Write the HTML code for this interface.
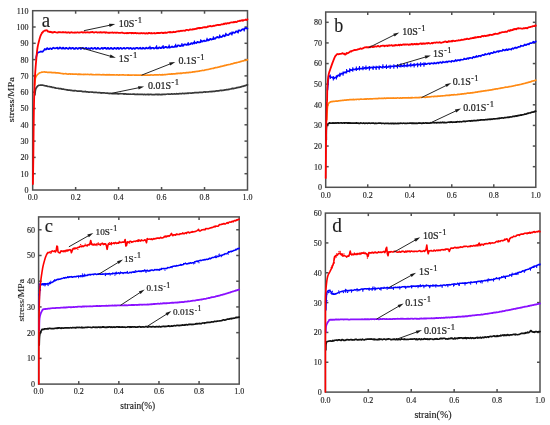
<!DOCTYPE html>
<html><head><meta charset="utf-8"><style>
html,body{margin:0;padding:0;background:#fff;}
svg{display:block;}
text{font-family:"Liberation Serif", "Times New Roman", serif;fill:#1e1e1e;stroke:#1e1e1e;stroke-width:0.15px;}
.r{stroke:#1e1e1e;stroke-width:0.22px;}
</style></head><body>
<svg width="550" height="425" viewBox="0 0 550 425" font-size="8">
<rect width="550" height="425" fill="#fff"/>
<rect x="32.67" y="10.7" width="214.83" height="179.30" fill="none" stroke="#505050" stroke-width="1.5"/>
<text x="28.47" y="192.90" text-anchor="end" font-size="8.0">0</text>
<line x1="32.67" y1="173.70" x2="35.67" y2="173.70" stroke="#505050" stroke-width="1.5"/>
<line x1="247.5" y1="173.70" x2="244.5" y2="173.70" stroke="#505050" stroke-width="1.5"/>
<text x="28.47" y="176.60" text-anchor="end" font-size="8.0">10</text>
<line x1="32.67" y1="157.40" x2="35.67" y2="157.40" stroke="#505050" stroke-width="1.5"/>
<line x1="247.5" y1="157.40" x2="244.5" y2="157.40" stroke="#505050" stroke-width="1.5"/>
<text x="28.47" y="160.30" text-anchor="end" font-size="8.0">20</text>
<line x1="32.67" y1="141.10" x2="35.67" y2="141.10" stroke="#505050" stroke-width="1.5"/>
<line x1="247.5" y1="141.10" x2="244.5" y2="141.10" stroke="#505050" stroke-width="1.5"/>
<text x="28.47" y="144.00" text-anchor="end" font-size="8.0">30</text>
<line x1="32.67" y1="124.80" x2="35.67" y2="124.80" stroke="#505050" stroke-width="1.5"/>
<line x1="247.5" y1="124.80" x2="244.5" y2="124.80" stroke="#505050" stroke-width="1.5"/>
<text x="28.47" y="127.70" text-anchor="end" font-size="8.0">40</text>
<line x1="32.67" y1="108.50" x2="35.67" y2="108.50" stroke="#505050" stroke-width="1.5"/>
<line x1="247.5" y1="108.50" x2="244.5" y2="108.50" stroke="#505050" stroke-width="1.5"/>
<text x="28.47" y="111.40" text-anchor="end" font-size="8.0">50</text>
<line x1="32.67" y1="92.20" x2="35.67" y2="92.20" stroke="#505050" stroke-width="1.5"/>
<line x1="247.5" y1="92.20" x2="244.5" y2="92.20" stroke="#505050" stroke-width="1.5"/>
<text x="28.47" y="95.10" text-anchor="end" font-size="8.0">60</text>
<line x1="32.67" y1="75.90" x2="35.67" y2="75.90" stroke="#505050" stroke-width="1.5"/>
<line x1="247.5" y1="75.90" x2="244.5" y2="75.90" stroke="#505050" stroke-width="1.5"/>
<text x="28.47" y="78.80" text-anchor="end" font-size="8.0">70</text>
<line x1="32.67" y1="59.60" x2="35.67" y2="59.60" stroke="#505050" stroke-width="1.5"/>
<line x1="247.5" y1="59.60" x2="244.5" y2="59.60" stroke="#505050" stroke-width="1.5"/>
<text x="28.47" y="62.50" text-anchor="end" font-size="8.0">80</text>
<line x1="32.67" y1="43.30" x2="35.67" y2="43.30" stroke="#505050" stroke-width="1.5"/>
<line x1="247.5" y1="43.30" x2="244.5" y2="43.30" stroke="#505050" stroke-width="1.5"/>
<text x="28.47" y="46.20" text-anchor="end" font-size="8.0">90</text>
<line x1="32.67" y1="27.00" x2="35.67" y2="27.00" stroke="#505050" stroke-width="1.5"/>
<line x1="247.5" y1="27.00" x2="244.5" y2="27.00" stroke="#505050" stroke-width="1.5"/>
<text x="28.47" y="29.90" text-anchor="end" font-size="8.0">100</text>
<text x="28.47" y="13.60" text-anchor="end" font-size="8.0">110</text>
<text x="32.67" y="200.40" text-anchor="middle" font-size="8.0">0.0</text>
<line x1="75.64" y1="190.0" x2="75.64" y2="187.0" stroke="#505050" stroke-width="1.5"/>
<line x1="75.64" y1="10.7" x2="75.64" y2="13.7" stroke="#505050" stroke-width="1.5"/>
<text x="75.64" y="200.40" text-anchor="middle" font-size="8.0">0.2</text>
<line x1="118.60" y1="190.0" x2="118.60" y2="187.0" stroke="#505050" stroke-width="1.5"/>
<line x1="118.60" y1="10.7" x2="118.60" y2="13.7" stroke="#505050" stroke-width="1.5"/>
<text x="118.60" y="200.40" text-anchor="middle" font-size="8.0">0.4</text>
<line x1="161.57" y1="190.0" x2="161.57" y2="187.0" stroke="#505050" stroke-width="1.5"/>
<line x1="161.57" y1="10.7" x2="161.57" y2="13.7" stroke="#505050" stroke-width="1.5"/>
<text x="161.57" y="200.40" text-anchor="middle" font-size="8.0">0.6</text>
<line x1="204.53" y1="190.0" x2="204.53" y2="187.0" stroke="#505050" stroke-width="1.5"/>
<line x1="204.53" y1="10.7" x2="204.53" y2="13.7" stroke="#505050" stroke-width="1.5"/>
<text x="204.53" y="200.40" text-anchor="middle" font-size="8.0">0.8</text>
<text x="247.50" y="200.40" text-anchor="middle" font-size="8.0">1.0</text>
<polyline points="34.90,94.89 34.95,94.39 35.00,93.89 35.06,93.05 35.14,92.21 35.23,91.51 35.33,90.91 35.46,90.13 35.60,89.51 35.96,88.34 36.39,87.70 36.88,86.97 37.40,86.37 38.11,85.71 38.90,85.28 39.80,85.27 40.35,85.14 40.90,85.11 41.51,85.15 42.28,85.01 43.30,85.22 43.84,85.45 44.39,85.61 44.97,85.79 45.59,85.94 46.24,85.78 46.95,86.16 47.71,86.37 48.54,86.49 49.44,86.56 50.43,86.88 51.50,86.94 52.06,87.38 52.65,87.46 53.28,87.46 53.93,87.48 54.62,87.85 55.33,87.85 56.06,88.11 56.80,88.23 57.56,88.24 58.34,88.34 59.12,88.56 59.91,88.63 60.70,88.66 61.48,88.86 62.27,89.20 63.04,89.02 63.81,89.16 64.56,89.51 65.29,89.49 66.01,89.71 66.70,89.79 67.36,89.84 68.00,90.20 68.79,89.99 69.51,90.18 70.16,90.18 70.75,90.43 71.31,90.36 71.84,90.45 72.36,90.66 72.89,90.55 73.43,90.69 74.00,90.88 74.62,90.61 75.29,90.65 76.03,90.78 76.86,91.06 77.79,91.07 78.83,91.00 80.00,91.13 80.51,91.11 81.03,91.27 81.56,91.15 82.11,91.45 82.68,91.58 83.25,91.65 83.84,91.62 84.44,91.76 85.06,91.43 85.68,91.59 86.32,91.92 86.97,91.90 87.63,91.81 88.30,92.08 88.98,92.01 89.67,92.14 90.36,91.99 91.07,92.01 91.79,92.17 92.52,92.10 93.25,92.26 93.99,92.55 94.74,92.36 95.50,92.29 96.26,92.36 97.03,92.47 97.81,92.77 98.59,92.66 99.38,92.68 100.17,92.66 100.97,93.07 101.78,92.90 102.59,92.87 103.40,92.86 104.21,92.91 105.03,93.00 105.85,93.25 106.68,93.09 107.51,93.09 108.34,93.31 109.17,93.26 110.00,93.60 110.62,93.28 111.25,93.47 111.90,93.60 112.55,93.48 113.21,93.74 113.89,93.56 114.57,93.49 115.26,93.59 115.97,93.47 116.67,93.65 117.39,93.60 118.11,93.89 118.84,93.89 119.58,93.78 120.32,93.62 121.07,93.73 121.82,93.75 122.57,93.76 123.33,93.80 124.10,94.08 124.86,93.81 125.63,93.79 126.39,94.17 127.16,94.04 127.93,94.24 128.70,94.02 129.47,94.24 130.24,94.16 131.01,94.24 131.77,94.24 132.54,94.16 133.30,94.02 134.06,94.08 134.81,94.37 135.56,94.39 136.30,94.42 137.04,94.20 137.78,94.35 138.51,94.42 139.23,94.37 139.94,94.46 140.65,94.36 141.35,94.42 142.04,94.45 142.72,94.29 143.39,94.57 144.05,94.59 144.70,94.25 145.34,94.62 145.97,94.63 146.58,94.52 147.19,94.28 147.78,94.63 148.35,94.33 148.92,94.67 149.47,94.56 150.00,94.32 151.05,94.38 152.04,94.57 153.00,94.55 153.91,94.63 154.78,94.70 155.61,94.41 156.41,94.32 157.17,94.68 157.91,94.31 158.62,94.64 159.31,94.33 159.97,94.59 160.62,94.56 161.25,94.58 161.87,94.43 162.48,94.54 163.08,94.25 163.68,94.42 164.27,94.26 164.87,94.46 165.47,94.39 166.08,94.24 166.69,94.24 167.32,94.01 167.96,93.99 168.62,94.19 169.30,94.12 170.00,94.25 170.71,94.12 171.43,93.90 172.14,93.97 172.86,94.10 173.57,93.97 174.29,93.74 175.00,94.04 175.71,94.00 176.43,93.67 177.14,93.82 177.86,93.73 178.57,93.85 179.29,93.63 180.00,93.56 180.71,93.63 181.43,93.78 182.14,93.40 182.86,93.36 183.57,93.53 184.29,93.59 185.00,93.40 185.71,93.33 186.43,93.46 187.14,93.38 187.86,93.06 188.57,93.34 189.29,93.02 190.00,93.02 190.72,93.19 191.44,92.98 192.17,93.08 192.90,92.78 193.64,93.01 194.38,92.68 195.12,92.62 195.86,92.71 196.60,92.59 197.35,92.62 198.09,92.71 198.83,92.58 199.57,92.24 200.31,92.31 201.05,92.35 201.78,92.27 202.50,92.31 203.23,92.16 203.94,91.94 204.65,91.95 205.35,92.13 206.05,91.88 206.73,91.99 207.41,92.02 208.07,91.82 208.73,91.78 209.37,91.70 210.00,91.53 210.82,91.69 211.62,91.44 212.41,91.55 213.17,91.24 213.92,91.40 214.65,91.31 215.37,91.17 216.08,91.04 216.78,90.85 217.47,91.04 218.15,90.80 218.83,90.85 219.51,90.57 220.19,90.47 220.86,90.42 221.54,90.60 222.22,90.26 222.90,90.46 223.59,90.16 224.29,90.14 225.00,89.94 225.72,89.93 226.46,89.60 227.21,89.60 227.97,89.68 228.73,89.24 229.50,89.28 230.28,89.00 231.05,88.84 231.82,88.58 232.59,88.42 233.35,88.64 234.10,88.44 234.83,88.27 235.56,88.12 236.26,88.02 236.95,87.55 237.61,87.58 238.25,87.40 238.86,87.29 239.45,87.30 240.00,87.10 240.99,86.95 241.92,86.37 242.79,86.34 243.60,86.12 244.34,85.92 245.02,85.65 245.64,85.54 246.20,85.14 246.69,85.23 247.13,84.88 247.50,84.84" fill="none" stroke="#383838" stroke-width="1.7" stroke-linejoin="round" stroke-linecap="round"/>
<polyline points="34.60,84.92 34.65,84.56 34.71,83.89 34.78,83.23 34.86,82.42 34.95,81.39 35.05,80.49 35.17,79.87 35.29,78.88 35.44,78.14 35.60,77.75 35.91,76.76 36.28,76.18 36.68,75.49 37.11,75.03 37.55,74.43 38.00,74.14 38.65,73.63 39.31,73.06 40.04,72.76 40.90,72.45 41.50,72.13 42.07,72.23 42.69,72.12 43.44,72.01 44.38,71.93 45.60,72.21 46.14,72.11 46.74,72.21 47.39,72.29 48.08,72.28 48.80,72.39 49.56,72.28 50.34,72.45 51.13,72.40 51.94,72.61 52.75,72.65 53.56,72.48 54.37,72.55 55.16,72.64 55.93,72.92 56.68,72.82 57.40,72.94 58.10,72.90 58.71,73.03 59.25,73.06 59.75,73.11 60.23,73.25 60.70,73.32 61.18,73.49 61.70,73.49 62.28,73.63 62.93,73.68 63.67,73.79 64.53,73.76 65.52,73.67 66.67,73.95 68.00,74.04 68.48,74.04 68.97,73.96 69.47,74.02 69.99,73.89 70.52,74.10 71.06,74.04 71.61,73.98 72.17,73.93 72.74,74.19 73.33,74.25 73.92,74.00 74.53,74.23 75.15,74.13 75.78,74.07 76.41,74.13 77.06,74.30 77.72,74.35 78.40,74.12 79.08,74.31 79.77,74.15 80.47,74.38 81.18,74.28 81.90,74.46 82.63,74.51 83.37,74.38 84.12,74.55 84.88,74.36 85.64,74.31 86.42,74.48 87.21,74.33 88.00,74.40 88.81,74.48 89.62,74.55 90.44,74.43 91.27,74.42 92.11,74.68 92.95,74.53 93.81,74.74 94.67,74.73 95.54,74.59 96.41,74.63 97.30,74.66 98.19,74.72 99.09,74.72 100.00,74.72 100.58,74.74 101.18,74.85 101.79,74.73 102.40,74.71 103.03,74.81 103.67,74.68 104.32,74.70 104.98,74.92 105.64,74.79 106.32,74.81 107.00,74.66 107.70,74.79 108.40,74.85 109.11,74.69 109.82,74.88 110.54,74.89 111.27,74.73 112.00,74.91 112.74,74.87 113.49,74.95 114.24,74.86 114.99,74.98 115.75,74.99 116.51,74.79 117.28,74.81 118.05,75.01 118.82,75.10 119.59,74.90 120.37,74.97 121.15,75.02 121.93,74.95 122.71,74.97 123.49,74.96 124.27,74.99 125.05,75.06 125.83,74.98 126.61,75.01 127.38,75.14 128.16,74.92 128.93,75.09 129.71,75.15 130.48,75.03 131.24,75.01 132.00,75.19 132.76,75.02 133.52,75.01 134.27,75.09 135.02,75.18 135.76,75.00 136.49,75.07 137.22,75.08 137.94,75.23 138.66,75.12 139.37,75.24 140.07,75.04 140.76,75.09 141.45,75.19 142.13,75.26 142.79,75.13 143.45,75.06 144.10,75.03 144.74,75.15 145.37,75.04 145.99,75.23 146.60,75.23 147.20,75.03 147.78,75.06 148.36,75.21 148.92,75.16 149.47,75.20 150.00,75.05 151.05,74.97 152.06,75.01 153.04,75.14 153.98,74.96 154.88,74.96 155.76,74.96 156.60,74.93 157.41,74.90 158.20,75.03 158.97,74.77 159.70,74.69 160.42,74.94 161.12,74.88 161.80,74.88 162.46,74.67 163.11,74.79 163.75,74.74 164.37,74.49 164.99,74.60 165.60,74.59 166.20,74.49 166.80,74.40 167.39,74.28 167.99,74.25 168.59,74.17 169.19,74.07 169.79,74.17 170.40,74.03 171.02,74.13 171.65,73.85 172.29,74.05 172.94,73.93 173.61,73.94 174.30,73.88 175.00,73.82 175.71,73.66 176.43,73.44 177.14,73.60 177.86,73.37 178.57,73.35 179.29,73.40 180.00,73.30 180.71,73.20 181.43,73.30 182.14,73.14 182.86,72.99 183.57,72.90 184.29,73.02 185.00,72.84 185.71,72.87 186.43,72.67 187.14,72.55 187.86,72.58 188.57,72.59 189.29,72.32 190.00,72.43 190.71,72.39 191.43,72.28 192.14,72.20 192.86,71.87 193.57,71.96 194.29,71.94 195.00,71.60 195.71,71.57 196.43,71.47 197.14,71.45 197.86,71.31 198.57,71.22 199.29,71.20 200.00,70.85 200.70,70.75 201.39,70.65 202.09,70.53 202.79,70.38 203.49,70.52 204.20,70.35 204.90,69.99 205.60,69.97 206.31,69.77 207.01,69.63 207.72,69.49 208.43,69.43 209.13,69.25 209.84,69.03 210.54,68.82 211.25,68.71 211.95,68.49 212.66,68.45 213.36,68.34 214.06,68.08 214.76,67.82 215.46,67.69 216.16,67.58 216.85,67.48 217.55,67.37 218.24,67.08 218.93,67.05 219.61,66.83 220.30,66.60 220.98,66.42 221.66,66.30 222.33,66.20 223.00,65.95 223.67,65.87 224.34,65.64 225.00,65.42 225.73,65.34 226.47,65.21 227.22,64.84 227.99,64.76 228.76,64.57 229.55,64.51 230.34,64.33 231.13,63.97 231.93,63.93 232.72,63.69 233.52,63.33 234.31,63.19 235.10,62.89 235.89,62.89 236.66,62.65 237.43,62.52 238.19,62.30 238.94,62.07 239.67,61.90 240.38,61.66 241.08,61.34 241.76,61.31 242.42,60.97 243.05,60.84 243.67,60.87 244.25,60.50 244.81,60.37 245.34,60.23 245.84,60.34 246.31,60.01 246.74,59.85 247.14,59.99 247.50,59.69" fill="none" stroke="#ff8a14" stroke-width="1.7" stroke-linejoin="round" stroke-linecap="round"/>
<polyline points="36.00,58.00 36.12,57.53 36.27,56.87 36.45,56.09 36.66,55.26 36.89,54.45 37.14,53.74 37.40,53.20 38.09,52.52 38.88,52.24 39.80,52.00 40.45,51.57 41.18,51.44 41.93,51.87 42.66,51.72 43.30,50.88 43.88,50.38 44.30,49.76 44.80,49.02 45.60,49.59 46.17,49.44 46.82,48.42 47.55,48.17 48.33,49.12 49.13,49.05 49.94,48.24 50.74,48.30 51.50,49.13 51.99,48.90 52.11,48.80 52.10,48.66 52.16,48.51 52.50,48.45 53.34,47.68 54.91,48.49 57.40,47.60 57.81,48.71 58.24,48.56 58.69,48.57 59.16,48.45 59.64,47.46 60.14,47.58 60.66,47.51 61.19,48.56 61.73,48.76 62.29,48.64 62.86,47.54 63.45,47.83 64.05,48.70 64.67,48.68 65.30,48.75 65.94,47.80 66.59,47.82 67.25,48.55 67.92,48.81 68.61,48.81 69.30,47.59 70.01,47.84 70.72,48.73 71.44,48.63 72.17,47.77 72.91,47.76 73.66,48.84 74.41,48.68 75.18,48.82 75.94,47.74 76.72,47.95 77.50,48.87 78.28,48.70 79.07,47.85 79.87,48.00 80.67,48.83 81.47,48.74 82.27,47.74 83.08,47.79 83.89,48.85 84.71,48.64 85.52,48.05 86.34,47.80 87.15,48.96 87.97,48.72 88.79,48.09 89.60,48.89 90.42,48.82 91.23,47.93 92.05,47.99 92.86,48.87 93.67,48.76 94.47,47.82 95.28,47.95 96.07,49.02 96.87,48.90 97.66,47.78 98.45,48.08 99.23,48.94 100.00,49.01 100.66,48.73 101.32,48.05 101.99,47.77 102.67,48.91 103.35,48.76 104.05,47.84 104.74,48.10 105.45,47.79 106.16,48.86 106.87,48.99 107.59,47.85 108.32,47.84 109.05,49.00 109.78,48.82 110.52,48.04 111.26,47.76 112.00,48.80 112.75,48.72 113.50,48.92 114.26,47.78 115.02,48.13 115.78,48.66 116.54,48.94 117.30,47.75 118.06,47.85 118.83,48.97 119.59,48.71 120.36,47.81 121.13,48.02 121.89,48.79 122.66,48.65 123.43,48.13 124.19,47.79 124.96,48.64 125.72,48.76 126.48,47.97 127.24,48.02 128.00,47.76 128.75,48.75 129.50,48.62 130.25,47.89 131.00,48.01 131.74,48.89 132.48,48.95 133.21,47.99 133.94,48.03 134.67,48.86 135.39,48.76 136.11,47.76 136.82,47.92 137.52,47.78 138.22,48.59 138.91,48.72 139.60,47.98 140.28,47.68 140.95,48.75 141.61,48.66 142.27,48.70 142.92,47.65 143.56,47.96 144.19,48.57 144.82,48.70 145.43,48.62 146.04,47.55 146.64,47.75 147.22,48.47 147.80,48.43 148.37,48.40 148.92,47.54 149.47,47.50 150.00,47.70 151.05,48.52 152.06,47.79 153.04,47.74 153.98,48.63 154.88,48.30 155.76,47.45 156.60,47.35 157.41,48.35 158.20,48.33 158.97,47.47 159.70,47.40 160.42,48.09 161.12,48.12 161.80,47.22 162.46,46.97 163.11,46.95 163.75,47.95 164.37,47.79 164.99,47.09 165.60,46.85 166.20,46.75 166.80,47.63 167.39,47.59 167.99,47.53 168.59,46.70 169.19,46.61 169.79,47.39 170.40,47.45 171.02,47.21 171.65,46.52 172.29,46.47 172.94,47.20 173.61,47.00 174.30,46.94 175.00,45.98 175.69,45.68 176.39,46.64 177.08,46.58 177.78,45.45 178.47,45.31 179.17,45.49 179.86,46.11 180.56,46.06 181.25,45.21 181.94,44.98 182.64,45.63 183.33,45.79 184.03,44.53 184.72,44.26 185.42,44.40 186.11,44.94 186.81,44.90 187.50,44.08 188.19,43.88 188.89,44.38 189.58,44.42 190.28,44.27 190.97,43.26 191.67,43.01 192.36,43.92 193.06,43.57 193.75,42.61 194.44,42.50 195.14,42.58 195.83,42.99 196.53,43.11 197.22,41.83 197.92,41.83 198.61,42.51 199.31,42.39 200.00,42.35 200.70,41.15 201.39,40.89 202.09,41.63 202.79,41.46 203.49,40.70 204.20,40.46 204.90,41.32 205.60,41.05 206.31,40.61 207.01,39.79 207.72,39.67 208.43,40.38 209.13,40.11 209.84,38.98 210.54,38.84 211.25,39.70 211.95,39.31 212.66,39.24 213.36,38.13 214.06,38.14 214.76,38.80 215.46,38.67 216.16,37.54 216.85,37.14 217.55,36.93 218.24,37.75 218.93,37.47 219.61,36.45 220.30,36.36 220.98,37.16 221.66,36.84 222.33,36.74 223.00,35.36 223.67,35.28 224.34,36.24 225.00,35.71 225.73,34.70 226.47,34.34 227.22,35.02 227.99,35.11 228.76,34.91 229.55,33.62 230.34,33.17 231.13,33.88 231.93,33.60 232.72,32.61 233.52,32.36 234.31,32.90 235.10,32.67 235.89,31.34 236.66,31.25 237.43,32.06 238.19,31.72 238.94,30.31 239.67,30.23 240.38,30.96 241.08,30.54 241.76,29.66 242.42,29.26 243.05,29.14 243.67,29.71 244.25,29.75 244.81,28.57 245.34,28.31 245.84,27.96 246.31,27.92 246.74,28.51 247.14,28.61 247.50,28.60" fill="none" stroke="#0000ff" stroke-width="1.7" stroke-linejoin="round" stroke-linecap="round"/>
<path d="M150.00 45.70V49.50M156.60 45.35V49.15M163.11 44.95V48.75M169.19 44.61V48.41M175.69 43.68V47.48M181.94 42.98V46.78M188.19 41.88V45.68M194.44 40.50V44.30M200.70 39.15V42.95M207.01 37.79V41.59M213.36 36.13V39.93M219.61 34.45V38.25M225.73 32.70V36.50M231.93 31.60V35.40M238.19 29.72V33.52M244.25 27.75V31.55" stroke="#0000ff" stroke-width="1.1" fill="none"/>
<polyline points="32.90,184.00 32.91,183.64 32.91,183.26 32.92,182.85 32.93,182.43 32.94,181.99 32.94,181.53 32.95,181.05 32.96,180.55 32.97,180.03 32.98,179.49 32.99,178.93 33.00,178.35 33.01,177.75 33.03,177.12 33.04,176.48 33.05,175.81 33.06,175.12 33.08,174.42 33.09,173.68 33.10,172.93 33.11,172.16 33.13,171.36 33.14,170.54 33.16,169.70 33.17,168.83 33.18,167.94 33.20,167.03 33.21,166.10 33.23,165.14 33.24,164.16 33.26,163.16 33.27,162.13 33.29,161.08 33.30,160.00 33.31,159.47 33.31,158.93 33.32,158.37 33.33,157.80 33.34,157.21 33.34,156.61 33.35,156.00 33.36,155.38 33.37,154.74 33.37,154.10 33.38,153.44 33.39,152.77 33.40,152.09 33.40,151.40 33.41,150.71 33.42,150.00 33.43,149.28 33.44,148.56 33.44,147.83 33.45,147.09 33.46,146.35 33.47,145.60 33.48,144.84 33.48,144.08 33.49,143.31 33.50,142.54 33.51,141.76 33.52,140.98 33.53,140.20 33.53,139.42 33.54,138.63 33.55,137.84 33.56,137.05 33.57,136.25 33.58,135.46 33.59,134.67 33.59,133.87 33.60,133.08 33.61,132.29 33.62,131.49 33.63,130.71 33.64,129.92 33.65,129.13 33.66,128.35 33.66,127.58 33.67,126.80 33.68,126.03 33.69,125.27 33.70,124.51 33.71,123.76 33.72,123.01 33.73,122.27 33.74,121.53 33.75,120.81 33.75,120.09 33.76,119.38 33.77,118.68 33.78,117.98 33.79,117.30 33.80,116.63 33.81,115.96 33.82,115.31 33.83,114.67 33.84,114.04 33.85,113.42 33.85,112.82 33.86,112.23 33.87,111.65 33.88,111.09 33.89,110.54 33.90,110.00 33.92,108.94 33.94,107.91 33.96,106.91 33.98,105.94 34.00,104.99 34.02,104.07 34.04,103.17 34.06,102.30 34.08,101.44 34.10,100.62 34.12,99.81 34.14,99.02 34.16,98.26 34.18,97.51 34.20,96.78 34.22,96.07 34.25,95.38 34.27,94.70 34.29,94.04 34.31,93.39 34.33,92.76 34.35,92.15 34.37,91.54 34.39,90.95 34.41,90.36 34.43,89.79 34.45,89.23 34.47,88.68 34.49,88.13 34.51,87.60 34.53,87.07 34.55,86.54 34.56,86.02 34.58,85.51 34.60,85.00 34.64,83.88 34.67,82.89 34.70,82.01 34.73,81.23 34.76,80.53 34.79,79.89 34.81,79.30 34.84,78.74 34.87,78.20 34.90,77.66 34.93,77.10 34.96,76.51 35.00,75.88 35.05,75.18 35.10,74.40 35.14,73.77 35.19,73.12 35.23,72.45 35.28,71.77 35.33,71.07 35.38,70.35 35.44,69.63 35.49,68.90 35.55,68.17 35.61,67.42 35.66,66.68 35.72,65.94 35.78,65.20 35.84,64.47 35.90,63.75 35.96,63.03 36.02,62.32 36.08,61.63 36.14,60.96 36.20,60.30 36.27,59.49 36.34,58.69 36.41,57.89 36.48,57.10 36.55,56.32 36.62,55.55 36.69,54.78 36.76,54.03 36.83,53.29 36.90,52.56 36.98,51.84 37.06,51.14 37.14,50.46 37.22,49.79 37.31,49.13 37.40,48.50 37.54,47.61 37.69,46.75 37.85,45.93 38.01,45.13 38.18,44.37 38.35,43.63 38.53,42.92 38.70,42.23 38.87,41.57 39.04,40.92 39.20,40.30 39.44,39.37 39.67,38.52 39.90,37.73 40.13,36.99 40.37,36.30 40.62,35.64 40.90,35.00 41.25,34.29 41.63,33.61 42.02,32.74 42.44,32.67 42.86,32.11 43.30,31.33 43.99,30.97 44.71,30.55 45.46,30.46 46.20,30.50 46.82,30.22 47.37,30.61 48.08,31.66 49.20,31.75 49.70,32.07 50.18,31.62 50.67,32.01 51.19,32.26 51.76,31.98 52.41,32.53 53.14,32.54 53.98,31.98 54.96,32.01 56.09,32.40 57.40,32.71 57.90,32.33 58.42,32.22 58.97,32.37 59.55,32.10 60.16,32.24 60.78,32.40 61.43,32.44 62.10,32.26 62.78,32.26 63.49,32.25 64.20,32.42 64.93,32.30 65.68,32.11 66.43,32.68 67.19,32.49 67.96,32.54 68.74,32.22 69.52,32.78 70.30,32.69 71.08,32.17 71.87,32.31 72.65,32.58 73.42,32.57 74.20,32.73 74.96,32.36 75.72,32.65 76.47,32.53 77.20,32.27 77.92,32.47 78.63,32.67 79.33,32.64 80.00,32.40 80.75,32.46 81.50,32.07 82.23,32.21 82.95,32.59 83.66,32.32 84.37,32.14 85.07,32.40 85.76,32.50 86.45,32.47 87.13,32.25 87.81,32.29 88.49,32.33 89.17,32.51 89.85,32.32 90.53,32.22 91.22,32.28 91.90,31.96 92.59,31.96 93.29,32.42 94.00,32.61 94.71,32.34 95.43,32.20 96.16,32.04 96.90,32.27 97.66,32.61 98.42,32.47 99.20,32.32 100.00,32.55 100.65,32.12 101.30,32.33 101.96,32.65 102.63,32.40 103.31,32.33 103.99,32.22 104.68,32.43 105.37,32.73 106.07,32.09 106.78,32.65 107.49,32.70 108.20,32.77 108.92,32.69 109.64,32.76 110.36,32.58 111.09,32.63 111.82,32.56 112.55,32.33 113.29,32.92 114.02,32.74 114.76,32.50 115.50,32.74 116.24,32.75 116.97,32.68 117.71,32.70 118.45,32.86 119.18,32.94 119.92,32.95 120.65,32.86 121.38,32.58 122.11,32.74 122.84,32.73 123.56,33.03 124.28,33.24 125.00,33.21 125.71,33.22 126.43,33.25 127.14,32.87 127.86,33.30 128.57,33.20 129.29,32.81 130.00,32.78 130.71,32.79 131.43,33.33 132.14,32.99 132.86,32.91 133.57,33.29 134.29,33.11 135.00,32.93 135.71,33.01 136.43,33.29 137.14,33.05 137.86,33.14 138.57,33.45 139.29,33.29 140.00,33.20 140.71,33.32 141.43,33.01 142.14,33.27 142.86,33.30 143.57,33.14 144.29,33.09 145.00,33.64 145.71,33.37 146.43,33.15 147.14,33.42 147.86,33.56 148.57,32.99 149.29,32.98 150.00,33.05 150.71,33.44 151.43,33.03 152.14,33.39 152.86,33.35 153.57,33.23 154.29,32.98 155.00,33.48 155.71,33.33 156.43,33.11 157.14,32.88 157.86,33.14 158.57,32.93 159.29,33.03 160.00,32.81 160.71,33.00 161.43,32.56 162.14,32.69 162.86,33.11 163.57,33.01 164.29,32.56 165.00,32.90 165.71,32.47 166.43,32.86 167.14,32.67 167.86,32.39 168.57,32.22 169.29,31.99 170.00,32.54 170.71,31.89 171.43,32.37 172.14,32.41 172.86,32.07 173.57,31.72 174.29,32.13 175.00,32.13 175.69,31.87 176.39,31.65 177.08,31.48 177.78,31.37 178.47,31.19 179.17,31.43 179.86,31.17 180.56,30.90 181.25,30.74 181.94,31.04 182.64,30.68 183.33,30.72 184.03,30.49 184.72,30.77 185.42,30.68 186.11,29.95 186.81,29.97 187.50,29.95 188.19,30.30 188.89,30.04 189.58,29.62 190.28,29.41 190.97,29.62 191.67,29.62 192.36,29.57 193.06,29.04 193.75,29.30 194.44,29.05 195.14,28.79 195.83,29.02 196.53,28.38 197.22,28.61 197.92,28.05 198.61,27.99 199.31,28.40 200.00,27.80 200.70,28.07 201.39,27.85 202.09,27.90 202.79,27.46 203.49,27.33 204.20,27.18 204.90,27.47 205.60,27.17 206.31,27.30 207.01,27.14 207.72,26.49 208.43,26.67 209.13,26.24 209.84,26.08 210.54,25.98 211.25,26.42 211.95,26.25 212.66,26.16 213.36,25.70 214.06,25.78 214.76,25.77 215.46,25.37 216.16,25.39 216.85,25.03 217.55,24.81 218.24,24.82 218.93,25.14 219.61,24.79 220.30,24.93 220.98,24.48 221.66,24.24 222.33,24.47 223.00,24.38 223.67,23.70 224.34,24.04 225.00,23.51 225.75,23.40 226.52,23.80 227.30,23.06 228.09,23.06 228.89,23.43 229.69,22.88 230.51,22.52 231.33,22.40 232.15,22.29 232.97,22.49 233.79,21.88 234.61,22.29 235.42,21.76 236.23,22.02 237.03,21.83 237.81,21.24 238.59,21.06 239.35,21.07 240.09,20.66 240.82,20.91 241.53,20.34 242.21,20.19 242.88,20.74 243.52,20.13 244.13,20.22 244.71,20.01 245.26,19.80 245.78,19.53 246.27,20.03 246.72,19.98 247.13,19.90 247.50,19.23" fill="none" stroke="#ff0000" stroke-width="1.8" stroke-linejoin="round" stroke-linecap="round"/>
<text transform="translate(41.7,26.8) scale(0.86,0.93)" font-size="22">a</text>
<line x1="83.90" y1="30.70" x2="110.31" y2="25.13" stroke="#1a1a1a" stroke-width="0.95"/><polygon points="115.20,24.10 109.66,26.90 109.00,23.77" fill="#1a1a1a"/>
<text x="118.70" y="26.70" font-size="10" class="r">10S<tspan dx="0.50" dy="-3.70" font-size="7.40">-</tspan><tspan dx="0.60" dy="-0.30" font-size="8.60">1</tspan></text>
<line x1="80.10" y1="47.50" x2="111.00" y2="56.41" stroke="#1a1a1a" stroke-width="0.95"/><polygon points="115.80,57.80 109.59,57.67 110.48,54.60" fill="#1a1a1a"/>
<text x="118.80" y="61.90" font-size="10" class="r">1S<tspan dx="0.50" dy="-3.70" font-size="7.40">-</tspan><tspan dx="0.60" dy="-0.30" font-size="8.60">1</tspan></text>
<line x1="141.50" y1="75.20" x2="170.65" y2="63.73" stroke="#1a1a1a" stroke-width="0.95"/><polygon points="175.30,61.90 170.30,65.59 169.13,62.61" fill="#1a1a1a"/>
<text x="178.60" y="63.90" font-size="10" class="r">0.1S<tspan dx="0.50" dy="-3.70" font-size="7.40">-</tspan><tspan dx="0.60" dy="-0.30" font-size="8.60">1</tspan></text>
<line x1="111.20" y1="93.40" x2="139.30" y2="87.61" stroke="#1a1a1a" stroke-width="0.95"/><polygon points="144.20,86.60 138.65,89.38 138.00,86.24" fill="#1a1a1a"/>
<text x="148.00" y="88.90" font-size="10" class="r">0.01S<tspan dx="0.50" dy="-3.70" font-size="7.40">-</tspan><tspan dx="0.60" dy="-0.30" font-size="8.60">1</tspan></text>
<text x="0" y="0" transform="translate(13.5,99.8) rotate(-90) scale(1,0.9)" text-anchor="middle" font-size="10.3">stress/MPa</text>
<rect x="325.7" y="12.0" width="210.10" height="175.30" fill="none" stroke="#505050" stroke-width="1.5"/>
<text x="322.00" y="190.20" text-anchor="end" font-size="8.0">0</text>
<line x1="325.7" y1="166.68" x2="328.7" y2="166.68" stroke="#505050" stroke-width="1.5"/>
<line x1="535.8" y1="166.68" x2="532.8" y2="166.68" stroke="#505050" stroke-width="1.5"/>
<text x="322.00" y="169.58" text-anchor="end" font-size="8.0">10</text>
<line x1="325.7" y1="146.05" x2="328.7" y2="146.05" stroke="#505050" stroke-width="1.5"/>
<line x1="535.8" y1="146.05" x2="532.8" y2="146.05" stroke="#505050" stroke-width="1.5"/>
<text x="322.00" y="148.95" text-anchor="end" font-size="8.0">20</text>
<line x1="325.7" y1="125.43" x2="328.7" y2="125.43" stroke="#505050" stroke-width="1.5"/>
<line x1="535.8" y1="125.43" x2="532.8" y2="125.43" stroke="#505050" stroke-width="1.5"/>
<text x="322.00" y="128.33" text-anchor="end" font-size="8.0">30</text>
<line x1="325.7" y1="104.81" x2="328.7" y2="104.81" stroke="#505050" stroke-width="1.5"/>
<line x1="535.8" y1="104.81" x2="532.8" y2="104.81" stroke="#505050" stroke-width="1.5"/>
<text x="322.00" y="107.71" text-anchor="end" font-size="8.0">40</text>
<line x1="325.7" y1="84.18" x2="328.7" y2="84.18" stroke="#505050" stroke-width="1.5"/>
<line x1="535.8" y1="84.18" x2="532.8" y2="84.18" stroke="#505050" stroke-width="1.5"/>
<text x="322.00" y="87.08" text-anchor="end" font-size="8.0">50</text>
<line x1="325.7" y1="63.56" x2="328.7" y2="63.56" stroke="#505050" stroke-width="1.5"/>
<line x1="535.8" y1="63.56" x2="532.8" y2="63.56" stroke="#505050" stroke-width="1.5"/>
<text x="322.00" y="66.46" text-anchor="end" font-size="8.0">60</text>
<line x1="325.7" y1="42.94" x2="328.7" y2="42.94" stroke="#505050" stroke-width="1.5"/>
<line x1="535.8" y1="42.94" x2="532.8" y2="42.94" stroke="#505050" stroke-width="1.5"/>
<text x="322.00" y="45.84" text-anchor="end" font-size="8.0">70</text>
<line x1="325.7" y1="22.31" x2="328.7" y2="22.31" stroke="#505050" stroke-width="1.5"/>
<line x1="535.8" y1="22.31" x2="532.8" y2="22.31" stroke="#505050" stroke-width="1.5"/>
<text x="322.00" y="25.21" text-anchor="end" font-size="8.0">80</text>
<text x="325.70" y="197.70" text-anchor="middle" font-size="8.0">0.0</text>
<line x1="367.72" y1="187.3" x2="367.72" y2="184.3" stroke="#505050" stroke-width="1.5"/>
<line x1="367.72" y1="12.0" x2="367.72" y2="15.0" stroke="#505050" stroke-width="1.5"/>
<text x="367.72" y="197.70" text-anchor="middle" font-size="8.0">0.2</text>
<line x1="409.74" y1="187.3" x2="409.74" y2="184.3" stroke="#505050" stroke-width="1.5"/>
<line x1="409.74" y1="12.0" x2="409.74" y2="15.0" stroke="#505050" stroke-width="1.5"/>
<text x="409.74" y="197.70" text-anchor="middle" font-size="8.0">0.4</text>
<line x1="451.76" y1="187.3" x2="451.76" y2="184.3" stroke="#505050" stroke-width="1.5"/>
<line x1="451.76" y1="12.0" x2="451.76" y2="15.0" stroke="#505050" stroke-width="1.5"/>
<text x="451.76" y="197.70" text-anchor="middle" font-size="8.0">0.6</text>
<line x1="493.78" y1="187.3" x2="493.78" y2="184.3" stroke="#505050" stroke-width="1.5"/>
<line x1="493.78" y1="12.0" x2="493.78" y2="15.0" stroke="#505050" stroke-width="1.5"/>
<text x="493.78" y="197.70" text-anchor="middle" font-size="8.0">0.8</text>
<text x="535.80" y="197.70" text-anchor="middle" font-size="8.0">1.0</text>
<polyline points="326.30,139.80 326.30,139.68 326.30,139.14 326.30,138.68 326.29,137.67 326.29,136.91 326.28,136.36 326.27,135.48 326.27,134.44 326.26,133.75 326.26,132.72 326.27,132.03 326.28,130.84 326.29,130.06 326.32,129.60 326.35,128.60 326.39,127.88 326.44,127.56 326.50,126.97 326.78,125.39 327.13,124.77 327.57,124.34 328.09,123.76 328.70,123.68 329.00,123.15 329.04,123.09 329.13,122.87 329.62,122.89 330.83,123.26 333.10,122.95 333.52,123.24 333.96,122.96 334.43,123.04 334.92,123.17 335.43,123.08 335.96,122.79 336.51,123.03 337.08,123.05 337.67,122.83 338.28,122.79 338.91,123.18 339.55,123.00 340.21,122.85 340.89,122.98 341.58,122.87 342.28,123.16 342.99,123.02 343.72,122.83 344.46,123.19 345.21,122.83 345.97,122.94 346.74,122.82 347.51,123.18 348.30,122.87 349.09,123.09 349.88,122.88 350.68,123.08 351.49,123.19 352.30,123.12 353.11,123.09 353.93,123.11 354.74,123.10 355.56,123.18 356.38,122.94 357.19,123.14 358.01,123.03 358.82,123.35 359.63,123.39 360.43,122.96 361.23,123.01 362.03,123.29 362.82,123.23 363.60,122.96 364.25,123.31 364.90,123.43 365.56,123.17 366.22,123.14 366.90,123.26 367.57,123.45 368.25,123.11 368.94,123.14 369.63,123.09 370.33,123.31 371.02,123.24 371.73,123.14 372.44,123.21 373.15,123.04 373.86,123.18 374.57,123.53 375.29,123.33 376.01,123.19 376.74,123.52 377.46,123.24 378.19,123.19 378.92,123.09 379.64,123.15 380.37,123.18 381.10,123.20 381.83,123.53 382.56,123.23 383.29,123.23 384.02,123.41 384.75,123.57 385.47,123.27 386.20,123.50 386.92,123.31 387.64,123.41 388.36,123.43 389.08,123.61 389.79,123.52 390.50,123.40 391.21,123.57 391.92,123.33 392.62,123.35 393.31,123.64 394.01,123.43 394.69,123.54 395.38,123.32 396.05,123.62 396.73,123.46 397.39,123.28 398.05,123.62 398.71,123.39 399.36,123.32 400.00,123.28 400.79,123.20 401.57,123.24 402.34,123.48 403.11,123.20 403.87,123.26 404.62,123.35 405.37,123.39 406.11,123.30 406.85,123.49 407.59,123.22 408.31,123.27 409.04,123.29 409.76,123.13 410.47,123.17 411.19,123.13 411.90,123.40 412.60,123.11 413.30,123.36 414.01,123.12 414.70,123.32 415.40,123.32 416.09,123.15 416.79,123.43 417.48,123.28 418.17,123.22 418.86,122.95 419.55,123.11 420.24,123.03 420.93,123.11 421.62,123.33 422.30,123.28 423.00,122.86 423.69,123.16 424.38,123.27 425.07,123.05 425.77,122.81 426.47,123.18 427.17,122.94 427.87,123.20 428.58,123.13 429.29,123.08 430.00,123.12 430.72,122.66 431.44,123.01 432.17,122.74 432.90,122.63 433.63,122.73 434.37,122.81 435.12,122.50 435.86,122.70 436.61,122.84 437.36,122.67 438.11,122.66 438.86,122.52 439.62,122.83 440.37,122.44 441.12,122.63 441.88,122.58 442.63,122.23 443.38,122.70 444.13,122.29 444.88,122.64 445.62,122.58 446.37,122.54 447.11,122.49 447.84,122.23 448.57,122.22 449.30,122.14 450.02,122.40 450.74,121.92 451.45,121.94 452.16,122.32 452.86,122.21 453.55,122.13 454.23,122.23 454.91,121.98 455.58,122.10 456.24,121.87 456.89,122.07 457.53,121.62 458.17,121.77 458.79,121.81 459.40,121.88 460.00,121.66 460.88,121.74 461.74,121.83 462.57,121.51 463.38,121.34 464.17,121.21 464.95,121.57 465.70,121.32 466.44,121.22 467.17,121.23 467.88,120.98 468.58,120.97 469.27,120.92 469.95,120.87 470.62,121.12 471.29,120.75 471.95,120.62 472.61,120.95 473.27,120.73 473.92,120.41 474.58,120.67 475.23,120.62 475.89,120.54 476.56,120.54 477.23,120.30 477.91,120.14 478.60,120.34 479.29,120.22 480.00,120.20 480.71,119.88 481.43,119.92 482.14,120.02 482.86,119.81 483.57,119.86 484.29,119.74 485.00,119.82 485.71,119.56 486.43,119.58 487.14,119.69 487.86,119.37 488.57,119.24 489.29,119.42 490.00,119.10 490.71,119.41 491.43,119.05 492.14,119.31 492.86,119.06 493.57,118.80 494.29,118.92 495.00,118.93 495.71,118.76 496.43,118.76 497.14,118.56 497.86,118.77 498.57,118.30 499.29,118.53 500.00,118.06 500.72,118.22 501.44,117.91 502.16,117.85 502.89,117.99 503.63,118.05 504.36,117.66 505.10,117.61 505.84,117.55 506.58,117.52 507.32,117.29 508.05,117.19 508.79,117.33 509.53,117.08 510.26,116.87 510.99,116.99 511.72,116.98 512.45,116.58 513.17,116.26 513.88,116.29 514.59,116.47 515.30,115.99 515.99,115.89 516.68,116.06 517.36,115.60 518.04,115.85 518.70,115.41 519.36,115.37 520.00,115.35 520.78,114.95 521.58,115.11 522.38,114.76 523.19,114.74 524.01,114.54 524.82,113.99 525.63,114.16 526.43,113.95 527.22,113.46 528.01,113.42 528.77,113.02 529.52,112.98 530.25,112.88 530.96,112.50 531.64,112.38 532.29,112.00 532.91,112.19 533.49,111.90 534.04,111.85 534.55,111.33 535.01,111.53 535.43,111.09 535.80,111.23" fill="none" stroke="#111111" stroke-width="1.7" stroke-linejoin="round" stroke-linecap="round"/>
<polyline points="326.80,119.93 326.82,119.64 326.84,119.13 326.87,118.59 326.89,117.73 326.92,117.02 326.95,116.22 326.98,115.42 327.01,114.73 327.04,113.67 327.08,112.91 327.12,111.93 327.17,111.09 327.22,110.28 327.27,109.58 327.33,108.73 327.39,107.82 327.45,107.24 327.52,106.60 327.60,106.31 327.85,105.04 328.11,104.15 328.41,103.55 328.77,103.10 329.23,102.81 329.80,102.39 330.25,101.96 330.66,101.94 331.10,101.70 331.60,101.68 332.22,101.55 333.01,101.42 334.02,101.30 335.30,101.18 335.78,101.09 336.28,100.97 336.80,101.12 337.33,101.05 337.88,101.04 338.45,100.89 339.04,100.78 339.65,100.77 340.28,100.51 340.93,100.61 341.60,100.47 342.29,100.32 343.01,100.25 343.76,100.28 344.52,100.13 345.32,100.12 346.14,100.09 346.99,99.96 347.87,99.81 348.77,99.85 349.71,99.71 350.67,99.65 351.67,99.57 352.70,99.56 353.26,99.44 353.84,99.58 354.44,99.64 355.06,99.44 355.70,99.51 356.35,99.54 357.03,99.24 357.72,99.24 358.42,99.40 359.14,99.38 359.88,99.29 360.62,99.11 361.37,99.16 362.14,99.26 362.91,99.23 363.69,99.18 364.48,98.97 365.27,99.13 366.07,98.95 366.87,99.03 367.67,98.82 368.48,99.04 369.28,98.90 370.09,98.91 370.89,98.72 371.69,98.81 372.48,98.78 373.27,98.75 374.06,98.65 374.84,98.73 375.61,98.59 376.37,98.55 377.12,98.49 377.86,98.62 378.59,98.42 379.30,98.43 380.00,98.36 380.69,98.51 381.36,98.46 382.01,98.43 382.64,98.26 383.26,98.36 383.85,98.31 384.42,98.21 384.97,98.17 385.50,98.45 386.63,98.15 387.67,98.17 388.61,98.13 389.48,98.21 390.28,98.03 391.02,98.13 391.71,98.09 392.35,98.22 392.96,97.96 393.55,98.05 394.12,98.09 394.68,98.23 395.25,98.08 395.82,98.07 396.42,98.12 397.04,98.00 397.70,97.91 398.41,98.03 399.17,98.14 400.00,98.07 400.62,97.91 401.26,98.03 401.91,98.06 402.57,97.88 403.24,97.96 403.92,97.88 404.61,97.84 405.31,97.84 406.02,97.80 406.74,97.83 407.46,97.73 408.19,97.82 408.92,97.71 409.66,97.90 410.40,97.84 411.14,97.65 411.89,97.86 412.63,97.67 413.38,97.74 414.13,97.74 414.87,97.65 415.62,97.61 416.36,97.63 417.09,97.52 417.83,97.71 418.56,97.45 419.28,97.63 420.00,97.42 420.71,97.40 421.43,97.39 422.14,97.24 422.86,97.23 423.57,97.25 424.29,97.23 425.00,97.32 425.71,97.30 426.43,96.97 427.14,97.06 427.86,96.89 428.57,97.03 429.29,96.83 430.00,96.95 430.71,96.79 431.43,96.60 432.14,96.51 432.86,96.52 433.57,96.65 434.29,96.37 435.00,96.41 435.71,96.32 436.43,96.25 437.14,96.33 437.86,96.09 438.57,96.18 439.29,96.11 440.00,96.13 440.71,95.95 441.43,96.01 442.14,95.81 442.86,95.79 443.57,95.74 444.29,95.75 445.00,95.71 445.71,95.42 446.43,95.36 447.14,95.42 447.86,95.45 448.57,95.30 449.29,95.17 450.00,95.31 450.71,95.05 451.43,94.92 452.14,94.84 452.86,94.77 453.57,94.92 454.29,94.66 455.00,94.78 455.71,94.75 456.43,94.72 457.14,94.59 457.86,94.41 458.57,94.39 459.29,94.38 460.00,94.26 460.71,94.06 461.43,94.12 462.14,93.84 462.86,93.82 463.57,93.94 464.29,93.70 465.00,93.55 465.71,93.62 466.43,93.43 467.14,93.21 467.86,93.13 468.57,93.11 469.29,93.04 470.00,93.12 470.71,92.82 471.43,92.91 472.14,92.82 472.86,92.59 473.57,92.66 474.29,92.50 475.00,92.31 475.71,92.15 476.43,92.11 477.14,92.14 477.86,91.92 478.57,91.72 479.29,91.67 480.00,91.59 480.71,91.40 481.43,91.41 482.14,91.14 482.86,91.27 483.57,90.96 484.29,90.83 485.00,90.86 485.71,90.66 486.43,90.72 487.14,90.49 487.86,90.38 488.57,90.36 489.29,90.06 490.00,90.10 490.71,89.95 491.43,89.76 492.14,89.80 492.86,89.40 493.57,89.53 494.29,89.19 495.00,89.28 495.71,88.95 496.43,88.79 497.14,88.80 497.86,88.81 498.57,88.48 499.29,88.42 500.00,88.33 500.69,88.10 501.39,88.06 502.09,87.78 502.79,87.79 503.50,87.76 504.21,87.51 504.92,87.34 505.63,87.17 506.35,87.23 507.06,87.02 507.77,87.04 508.49,86.86 509.20,86.54 509.91,86.65 510.62,86.53 511.32,86.36 512.02,86.23 512.72,86.05 513.41,85.93 514.10,85.78 514.79,85.63 515.46,85.39 516.14,85.22 516.80,85.26 517.46,85.08 518.11,84.78 518.75,84.82 519.38,84.67 520.00,84.50 520.78,84.40 521.58,84.24 522.38,83.90 523.19,83.82 524.01,83.52 524.82,83.33 525.63,83.06 526.43,83.00 527.22,82.64 528.01,82.57 528.77,82.17 529.52,82.06 530.25,81.92 530.96,81.65 531.64,81.36 532.29,81.08 532.91,81.02 533.49,80.83 534.04,80.79 534.55,80.64 535.01,80.57 535.43,80.29 535.80,80.17" fill="none" stroke="#ff8a14" stroke-width="1.7" stroke-linejoin="round" stroke-linecap="round"/>
<polyline points="327.50,90.00 327.53,89.59 327.57,89.08 327.62,88.47 327.67,87.79 327.73,87.04 327.79,86.25 327.86,85.42 327.92,84.56 327.99,83.69 328.06,82.83 328.13,81.98 328.20,81.16 328.26,80.39 328.33,79.67 328.39,79.03 328.45,78.46 328.50,78.00 328.60,76.44 328.67,75.99 329.20,76.00 329.67,76.14 330.27,76.78 330.96,77.31 331.72,77.20 332.52,77.42 333.32,78.25 334.10,78.45 334.68,77.67 335.26,77.63 335.84,77.24 336.42,77.38 337.03,76.90 337.66,75.85 338.33,75.15 339.04,75.40 339.80,74.86 340.38,74.88 341.00,73.65 341.67,73.65 342.37,73.65 343.09,73.58 343.82,72.54 344.55,72.26 345.27,72.74 345.96,72.13 346.62,71.29 347.24,71.38 347.80,71.00 348.30,71.24 349.21,71.22 349.72,70.39 350.13,69.91 350.73,69.89 351.80,70.15 352.28,70.13 352.78,69.55 353.30,69.26 353.84,69.36 354.41,69.58 355.02,69.51 355.66,69.05 356.34,68.76 357.06,69.25 357.82,69.20 358.63,68.43 359.49,68.28 360.40,68.62 361.37,68.79 362.40,68.19 362.94,68.14 363.51,68.57 364.09,68.40 364.70,67.75 365.32,67.84 365.96,67.79 366.62,68.12 367.29,68.12 367.98,67.53 368.68,67.55 369.39,68.22 370.12,68.06 370.85,67.23 371.59,67.50 372.34,67.90 373.09,67.90 373.85,67.14 374.61,67.18 375.38,67.72 376.14,67.83 376.91,66.93 377.67,67.06 378.43,67.47 379.19,67.64 379.94,66.73 380.69,66.79 381.43,67.37 382.16,67.44 382.89,66.57 383.60,66.68 384.31,67.14 385.03,67.12 385.75,66.55 386.47,66.70 387.20,67.06 387.94,67.21 388.67,66.24 389.41,66.50 390.15,66.83 390.89,66.71 391.63,66.28 392.37,66.30 393.11,66.49 393.84,66.55 394.58,66.10 395.30,65.88 396.03,66.39 396.75,66.25 397.47,66.22 398.18,65.80 398.88,65.90 399.58,66.46 400.26,66.22 400.94,65.38 401.61,65.45 402.27,66.19 402.92,66.17 403.56,65.44 404.19,65.24 404.80,65.31 405.65,65.83 406.46,65.83 407.24,65.03 408.00,65.25 408.73,65.77 409.44,65.42 410.13,64.82 410.81,65.00 411.48,65.31 412.14,65.53 412.80,64.70 413.46,64.72 414.13,65.27 414.80,65.02 415.48,64.99 416.18,64.32 416.89,64.44 417.63,64.98 418.39,64.69 419.18,64.32 420.00,64.67 420.63,64.54 421.28,64.57 421.94,64.13 422.61,63.91 423.28,64.48 423.97,64.54 424.66,63.90 425.36,63.76 426.07,64.16 426.79,64.17 427.51,63.63 428.24,63.53 428.97,63.38 429.70,63.83 430.44,63.77 431.18,63.25 431.92,63.12 432.66,63.43 433.40,63.64 434.15,63.05 434.89,62.94 435.63,63.51 436.37,63.44 437.10,62.62 437.83,62.65 438.56,63.01 439.28,62.82 440.00,62.24 440.71,62.15 441.43,62.92 442.14,62.74 442.86,62.00 443.57,61.95 444.29,62.27 445.00,62.36 445.71,61.74 446.43,61.54 447.14,61.99 447.86,61.97 448.57,61.26 449.29,61.31 450.00,61.61 450.71,61.50 451.43,61.49 452.14,60.95 452.86,60.88 453.57,61.35 454.29,61.36 455.00,60.43 455.71,60.19 456.43,60.87 457.14,60.74 457.86,59.92 458.57,60.00 459.29,60.36 460.00,60.20 460.69,59.51 461.38,59.64 462.07,59.74 462.76,59.75 463.45,59.59 464.14,58.83 464.83,58.78 465.52,59.16 466.21,59.30 466.90,58.39 467.59,58.33 468.28,58.57 468.97,58.55 469.66,57.85 470.34,57.80 471.03,58.01 471.72,57.94 472.41,57.95 473.10,57.19 473.79,56.79 474.48,57.36 475.17,57.30 475.86,56.39 476.55,56.35 477.24,56.79 477.93,56.76 478.62,55.83 479.31,55.73 480.00,56.04 480.70,56.04 481.40,55.71 482.12,55.01 482.84,54.79 483.57,55.19 484.31,54.95 485.05,54.21 485.79,54.15 486.54,54.46 487.29,54.19 488.03,53.71 488.78,53.32 489.52,54.00 490.26,53.68 490.99,52.82 491.72,52.83 492.44,53.26 493.14,52.86 493.84,52.01 494.53,52.04 495.21,52.56 495.87,52.31 496.51,51.62 497.14,51.32 497.75,51.26 498.35,51.58 498.92,51.51 499.47,51.37 500.00,50.65 501.02,51.04 501.95,51.02 502.80,50.00 503.59,49.87 504.31,50.37 504.99,50.55 505.62,49.67 506.24,49.39 506.84,49.61 507.43,50.13 508.04,50.01 508.66,49.12 509.31,49.14 510.00,49.42 510.70,49.20 511.38,49.34 512.04,48.57 512.69,48.17 513.33,48.88 513.98,48.38 514.64,47.73 515.31,47.44 516.00,47.91 516.72,47.71 517.47,47.72 518.27,46.73 519.11,47.04 520.00,46.77 520.59,46.05 521.22,46.07 521.89,45.76 522.60,45.94 523.34,45.94 524.11,45.03 524.89,44.75 525.69,45.12 526.50,44.91 527.31,44.10 528.12,44.32 528.93,44.11 529.72,43.18 530.49,43.00 531.24,43.25 531.97,43.02 532.66,42.24 533.31,42.10 533.92,41.73 534.48,42.40 534.98,42.06 535.42,42.06 535.80,41.28" fill="none" stroke="#0000ff" stroke-width="1.6" stroke-linejoin="round" stroke-linecap="round"/>
<path d="M330.27 74.58V78.98M333.32 76.05V80.45M336.42 75.18V79.58M339.80 72.66V77.06M343.09 71.38V75.78M346.62 69.09V73.49M349.72 68.19V72.59M352.78 67.35V71.75M356.34 66.56V70.96M359.49 66.08V70.48M362.94 65.94V70.34M365.96 65.59V69.99M369.39 66.02V70.42M373.09 65.70V70.10M376.14 65.63V70.03M379.19 65.44V69.84M382.89 64.37V68.77M386.47 64.50V68.90M390.15 64.63V69.03M393.84 64.35V68.75M397.47 64.02V68.42M400.94 63.18V67.58M404.19 63.04V67.44M407.24 62.83V67.23M410.81 62.80V67.20M414.13 63.07V67.47M417.63 62.78V67.18M420.63 62.34V66.74M423.97 62.34V66.74" stroke="#0000ff" stroke-width="1.1" fill="none"/>
<path d="M425.36 62.56V64.96M429.70 62.63V65.03M434.15 61.85V64.25M438.56 61.81V64.21M442.86 60.80V63.20M447.14 60.79V63.19M451.43 60.29V62.69M455.71 58.99V61.39M460.00 59.00V61.40M464.14 57.63V60.03M468.28 57.37V59.77M472.41 56.75V59.15M476.55 55.15V57.55M480.70 54.84V57.24M485.05 53.01V55.41M489.52 52.80V55.20M493.84 50.81V53.21M498.35 50.38V52.78M502.80 48.80V51.20M506.84 48.41V50.81M511.38 48.14V50.54M516.00 46.71V49.11M520.59 44.85V47.25M524.89 43.55V45.95M528.93 42.91V45.31M533.31 40.90V43.30" stroke="#0000ff" stroke-width="0.9" fill="none"/>
<polyline points="325.70,178.00 325.70,177.63 325.71,177.24 325.71,176.83 325.72,176.39 325.72,175.93 325.73,175.44 325.73,174.94 325.74,174.41 325.74,173.86 325.75,173.30 325.75,172.71 325.76,172.11 325.76,171.49 325.77,170.85 325.77,170.19 325.78,169.52 325.79,168.84 325.79,168.14 325.80,167.42 325.81,166.70 325.81,165.96 325.82,165.21 325.83,164.45 325.84,163.68 325.84,162.90 325.85,162.11 325.86,161.31 325.87,160.51 325.87,159.70 325.88,158.88 325.89,158.06 325.90,157.23 325.90,156.40 325.91,155.56 325.92,154.72 325.93,153.89 325.94,153.04 325.95,152.20 325.95,151.36 325.96,150.52 325.97,149.68 325.98,148.84 325.99,148.01 326.00,147.18 326.00,146.35 326.01,145.53 326.02,144.71 326.03,143.90 326.04,143.09 326.05,142.30 326.06,141.51 326.06,140.73 326.07,139.96 326.08,139.20 326.09,138.45 326.10,137.71 326.11,136.98 326.12,136.27 326.13,135.57 326.13,134.89 326.14,134.22 326.15,133.56 326.16,132.92 326.17,132.30 326.18,131.70 326.18,131.11 326.19,130.55 326.20,130.00 326.22,128.97 326.23,127.96 326.25,126.97 326.27,126.00 326.28,125.05 326.30,124.12 326.32,123.22 326.34,122.33 326.35,121.46 326.37,120.62 326.39,119.79 326.41,118.98 326.43,118.19 326.45,117.41 326.47,116.66 326.48,115.92 326.50,115.20 326.52,114.50 326.54,113.82 326.56,113.15 326.58,112.50 326.59,111.86 326.61,111.25 326.63,110.64 326.65,110.06 326.66,109.49 326.68,108.93 326.70,108.39 326.71,107.86 326.73,107.35 326.74,106.85 326.76,106.37 326.77,105.90 326.79,105.44 326.80,105.00 326.85,103.42 326.90,102.40 326.93,101.79 326.97,101.43 327.00,101.17 327.03,100.84 327.06,100.31 327.10,99.40 327.12,98.87 327.13,98.29 327.14,97.68 327.15,97.03 327.16,96.35 327.17,95.64 327.18,94.91 327.19,94.17 327.20,93.41 327.21,92.64 327.23,91.87 327.24,91.09 327.26,90.32 327.28,89.56 327.30,88.82 327.33,88.09 327.36,87.38 327.40,86.70 327.44,85.95 327.49,85.19 327.54,84.43 327.60,83.68 327.65,82.92 327.71,82.18 327.77,81.43 327.84,80.70 327.91,79.98 327.98,79.27 328.06,78.57 328.14,77.90 328.22,77.24 328.31,76.60 328.40,75.99 328.50,75.40 328.67,74.52 328.84,73.72 329.03,72.98 329.23,72.29 329.44,71.63 329.66,70.99 329.89,70.35 330.12,69.70 330.36,69.02 330.60,68.30 330.83,67.61 331.08,66.88 331.33,66.14 331.60,65.38 331.86,64.63 332.14,63.88 332.40,63.14 332.67,62.42 332.92,61.74 333.17,61.10 333.40,60.50 333.74,59.64 334.05,58.85 334.35,58.12 334.64,57.45 334.93,56.84 335.21,56.25 335.50,55.85 336.16,55.32 336.80,54.36 337.50,54.01 338.27,54.27 339.09,54.19 340.00,53.91 340.78,53.78 341.64,53.52 342.50,53.12 343.30,53.82 344.23,53.55 345.10,54.58 346.00,54.13 346.58,52.94 347.09,53.44 347.81,53.15 349.00,52.44 349.50,52.23 350.06,51.61 350.67,51.26 351.33,51.49 352.03,50.81 352.76,50.67 353.51,50.45 354.28,49.99 355.07,50.11 355.86,49.83 356.65,49.95 357.43,49.43 358.20,49.33 358.85,49.03 359.50,49.01 360.15,48.66 360.79,48.34 361.44,48.84 362.10,48.69 362.76,48.40 363.43,48.14 364.12,47.65 364.83,47.45 365.55,47.37 366.30,47.05 367.07,47.56 367.87,47.12 368.70,47.41 369.31,46.92 369.92,47.37 370.54,47.20 371.17,46.38 371.81,46.51 372.45,47.09 373.11,46.64 373.77,47.05 374.45,46.48 375.13,46.14 375.83,46.59 376.54,46.68 377.27,46.18 378.00,45.97 378.76,46.15 379.52,46.67 380.30,46.44 381.10,45.82 381.92,45.88 382.75,45.70 383.60,45.60 384.21,46.23 384.84,45.63 385.49,45.93 386.16,45.79 386.84,45.51 387.53,45.96 388.24,45.37 388.96,45.79 389.69,45.27 390.42,45.50 391.17,45.26 391.91,45.27 392.67,45.85 393.42,45.66 394.18,45.16 394.94,45.64 395.70,44.99 396.45,45.11 397.20,45.47 397.94,45.24 398.68,44.71 399.41,45.46 400.13,44.72 400.84,44.72 401.54,45.14 402.23,44.70 402.89,44.63 403.55,44.39 404.18,44.37 404.80,44.77 405.65,44.42 406.46,44.69 407.24,44.44 408.00,44.47 408.73,44.88 409.44,44.41 410.13,44.45 410.81,44.68 411.48,44.02 412.14,43.96 412.80,44.60 413.46,44.48 414.13,43.93 414.80,43.84 415.48,44.29 416.18,44.43 416.89,43.72 417.63,44.35 418.39,44.24 419.18,43.94 420.00,43.73 420.63,43.40 421.28,43.31 421.94,44.10 422.61,43.41 423.28,43.79 423.97,43.35 424.66,43.82 425.36,43.58 426.07,43.27 426.79,43.12 427.51,43.57 428.24,42.95 428.97,43.05 429.70,43.30 430.44,43.52 431.18,43.26 431.92,42.92 432.66,43.44 433.40,42.75 434.15,42.54 434.89,42.71 435.63,42.82 436.37,42.41 437.10,42.46 437.83,42.57 438.56,42.70 439.28,42.24 440.00,42.38 440.71,42.78 441.43,42.79 442.14,42.43 442.86,42.38 443.57,42.21 444.29,41.73 445.00,41.56 445.71,41.46 446.43,42.18 447.14,41.91 447.86,42.05 448.57,41.12 449.29,41.58 450.00,41.35 450.71,41.48 451.43,41.02 452.14,41.54 452.86,40.61 453.57,40.94 454.29,41.01 455.00,41.06 455.71,40.82 456.43,40.69 457.14,40.67 457.86,40.68 458.57,40.07 459.29,40.27 460.00,40.36 460.71,40.23 461.43,39.72 462.14,39.95 462.86,39.91 463.57,39.54 464.29,39.48 465.00,39.16 465.71,39.23 466.43,39.14 467.14,38.56 467.86,38.95 468.57,39.15 469.29,38.94 470.00,38.69 470.71,38.27 471.43,38.46 472.14,38.21 472.86,37.96 473.57,38.20 474.29,37.40 475.00,37.88 475.71,37.11 476.43,37.51 477.14,37.28 477.86,36.93 478.57,37.23 479.29,36.92 480.00,36.90 480.69,37.06 481.39,36.34 482.09,35.99 482.80,36.13 483.51,36.34 484.22,35.78 484.94,35.62 485.66,36.16 486.37,35.81 487.09,35.48 487.81,35.75 488.53,35.11 489.24,35.28 489.96,34.73 490.67,34.80 491.38,35.01 492.08,34.97 492.78,34.80 493.47,34.22 494.16,34.27 494.84,33.89 495.52,33.60 496.19,33.79 496.85,33.96 497.50,33.84 498.14,33.58 498.77,33.67 499.39,32.93 500.00,32.70 500.80,32.78 501.59,32.45 502.38,32.21 503.17,32.21 503.95,32.21 504.72,31.91 505.49,31.56 506.24,31.84 506.99,31.78 507.72,31.12 508.44,30.59 509.14,30.37 509.83,30.95 510.49,30.03 511.14,30.46 511.77,30.18 512.37,29.78 512.95,30.07 513.50,29.23 514.03,29.21 514.53,29.37 515.00,28.87 516.23,29.30 517.13,28.55 517.79,28.30 518.31,28.10 518.79,28.54 519.32,28.31 520.00,28.42 520.72,28.41 521.48,28.56 522.26,28.74 523.06,28.54 523.85,28.15 524.62,28.43 525.34,28.16 526.00,27.96 526.76,28.23 527.41,28.24 528.01,27.52 528.61,27.33 529.25,27.12 530.00,27.18 530.68,26.82 531.46,26.68 532.30,26.57 533.15,26.02 533.97,26.15 534.72,26.06 535.34,25.15 535.80,25.79" fill="none" stroke="#ff0000" stroke-width="1.8" stroke-linejoin="round" stroke-linecap="round"/>
<text transform="translate(334.3,31.6) scale(0.82,1)" font-size="22">b</text>
<line x1="368.70" y1="47.70" x2="394.83" y2="34.64" stroke="#1a1a1a" stroke-width="0.95"/><polygon points="399.30,32.40 394.65,36.51 393.22,33.65" fill="#1a1a1a"/>
<text x="402.20" y="34.80" font-size="10" class="r">10S<tspan dx="0.50" dy="-3.70" font-size="7.40">-</tspan><tspan dx="0.60" dy="-0.30" font-size="8.60">1</tspan></text>
<line x1="396.30" y1="65.70" x2="426.11" y2="56.83" stroke="#1a1a1a" stroke-width="0.95"/><polygon points="430.90,55.40 425.61,58.65 424.69,55.58" fill="#1a1a1a"/>
<text x="433.10" y="56.90" font-size="10" class="r">1S<tspan dx="0.50" dy="-3.70" font-size="7.40">-</tspan><tspan dx="0.60" dy="-0.30" font-size="8.60">1</tspan></text>
<line x1="421.50" y1="97.60" x2="446.81" y2="85.20" stroke="#1a1a1a" stroke-width="0.95"/><polygon points="451.30,83.00 446.62,87.08 445.21,84.20" fill="#1a1a1a"/>
<text x="452.70" y="84.80" font-size="10" class="r">0.1S<tspan dx="0.50" dy="-3.70" font-size="7.40">-</tspan><tspan dx="0.60" dy="-0.30" font-size="8.60">1</tspan></text>
<line x1="429.80" y1="123.20" x2="456.48" y2="110.63" stroke="#1a1a1a" stroke-width="0.95"/><polygon points="461.00,108.50 456.25,112.50 454.89,109.61" fill="#1a1a1a"/>
<text x="463.20" y="110.70" font-size="10" class="r">0.01S<tspan dx="0.50" dy="-3.70" font-size="7.40">-</tspan><tspan dx="0.60" dy="-0.30" font-size="8.60">1</tspan></text>
<rect x="38.6" y="216.9" width="200.60" height="167.20" fill="none" stroke="#505050" stroke-width="1.5"/>
<text x="35.10" y="387.00" text-anchor="end" font-size="8.0">0</text>
<line x1="38.6" y1="358.38" x2="41.6" y2="358.38" stroke="#505050" stroke-width="1.5"/>
<line x1="239.2" y1="358.38" x2="236.2" y2="358.38" stroke="#505050" stroke-width="1.5"/>
<text x="35.10" y="361.28" text-anchor="end" font-size="8.0">10</text>
<line x1="38.6" y1="332.65" x2="41.6" y2="332.65" stroke="#505050" stroke-width="1.5"/>
<line x1="239.2" y1="332.65" x2="236.2" y2="332.65" stroke="#505050" stroke-width="1.5"/>
<text x="35.10" y="335.55" text-anchor="end" font-size="8.0">20</text>
<line x1="38.6" y1="306.93" x2="41.6" y2="306.93" stroke="#505050" stroke-width="1.5"/>
<line x1="239.2" y1="306.93" x2="236.2" y2="306.93" stroke="#505050" stroke-width="1.5"/>
<text x="35.10" y="309.83" text-anchor="end" font-size="8.0">30</text>
<line x1="38.6" y1="281.21" x2="41.6" y2="281.21" stroke="#505050" stroke-width="1.5"/>
<line x1="239.2" y1="281.21" x2="236.2" y2="281.21" stroke="#505050" stroke-width="1.5"/>
<text x="35.10" y="284.11" text-anchor="end" font-size="8.0">40</text>
<line x1="38.6" y1="255.48" x2="41.6" y2="255.48" stroke="#505050" stroke-width="1.5"/>
<line x1="239.2" y1="255.48" x2="236.2" y2="255.48" stroke="#505050" stroke-width="1.5"/>
<text x="35.10" y="258.38" text-anchor="end" font-size="8.0">50</text>
<line x1="38.6" y1="229.76" x2="41.6" y2="229.76" stroke="#505050" stroke-width="1.5"/>
<line x1="239.2" y1="229.76" x2="236.2" y2="229.76" stroke="#505050" stroke-width="1.5"/>
<text x="35.10" y="232.66" text-anchor="end" font-size="8.0">60</text>
<text x="38.60" y="394.00" text-anchor="middle" font-size="8.0">0.0</text>
<line x1="78.72" y1="384.1" x2="78.72" y2="381.1" stroke="#505050" stroke-width="1.5"/>
<line x1="78.72" y1="216.9" x2="78.72" y2="219.9" stroke="#505050" stroke-width="1.5"/>
<text x="78.72" y="394.00" text-anchor="middle" font-size="8.0">0.2</text>
<line x1="118.84" y1="384.1" x2="118.84" y2="381.1" stroke="#505050" stroke-width="1.5"/>
<line x1="118.84" y1="216.9" x2="118.84" y2="219.9" stroke="#505050" stroke-width="1.5"/>
<text x="118.84" y="394.00" text-anchor="middle" font-size="8.0">0.4</text>
<line x1="158.96" y1="384.1" x2="158.96" y2="381.1" stroke="#505050" stroke-width="1.5"/>
<line x1="158.96" y1="216.9" x2="158.96" y2="219.9" stroke="#505050" stroke-width="1.5"/>
<text x="158.96" y="394.00" text-anchor="middle" font-size="8.0">0.6</text>
<line x1="199.08" y1="384.1" x2="199.08" y2="381.1" stroke="#505050" stroke-width="1.5"/>
<line x1="199.08" y1="216.9" x2="199.08" y2="219.9" stroke="#505050" stroke-width="1.5"/>
<text x="199.08" y="394.00" text-anchor="middle" font-size="8.0">0.8</text>
<text x="239.20" y="394.00" text-anchor="middle" font-size="8.0">1.0</text>
<polyline points="39.20,345.13 39.22,344.78 39.23,343.86 39.25,343.72 39.27,342.53 39.29,342.04 39.31,340.88 39.34,340.44 39.37,339.22 39.40,338.70 39.45,337.88 39.50,337.12 39.56,336.19 39.62,335.79 39.70,335.29 39.92,333.66 40.20,332.98 40.51,332.48 40.84,331.70 41.17,330.97 41.50,330.38 41.76,330.09 42.03,329.24 43.50,329.36 43.91,329.34 44.31,328.87 44.72,328.91 45.15,328.84 45.60,328.92 46.07,328.76 46.57,329.02 47.12,328.98 47.71,328.56 48.35,328.86 49.05,328.31 49.82,328.27 50.66,328.56 51.59,328.59 52.59,328.55 53.69,328.60 54.89,328.47 56.20,328.06 56.69,328.33 57.20,328.42 57.72,327.90 58.26,328.12 58.81,327.90 59.38,327.87 59.97,328.05 60.57,328.15 61.18,328.31 61.80,327.79 62.44,327.99 63.09,328.27 63.75,328.11 64.43,327.95 65.11,327.76 65.80,327.97 66.51,327.73 67.22,327.94 67.94,327.92 68.67,327.75 69.41,327.97 70.15,327.72 70.90,327.74 71.66,327.93 72.42,327.57 73.18,327.51 73.96,327.72 74.73,327.62 75.51,327.87 76.29,327.47 77.07,327.53 77.86,327.32 78.65,327.54 79.44,327.44 80.23,327.50 81.02,327.68 81.80,327.22 82.59,327.78 83.38,327.60 84.16,327.64 84.94,327.46 85.72,327.47 86.49,327.35 87.26,327.33 88.03,327.21 88.79,327.25 89.55,327.23 90.30,327.24 91.04,327.57 91.77,327.49 92.50,327.38 93.20,327.00 93.90,327.14 94.60,327.29 95.31,327.37 96.02,327.20 96.73,327.32 97.45,327.47 98.17,327.08 98.89,327.14 99.61,327.36 100.33,327.09 101.06,327.33 101.78,327.13 102.51,326.89 103.24,327.15 103.97,326.91 104.70,327.33 105.43,327.36 106.16,327.17 106.90,327.39 107.63,326.97 108.36,327.11 109.09,326.94 109.82,326.86 110.55,327.32 111.28,326.85 112.01,327.38 112.73,327.15 113.46,327.23 114.18,326.83 114.91,327.35 115.63,327.27 116.34,326.86 117.06,326.90 117.77,326.87 118.48,327.09 119.19,326.83 119.90,327.25 120.60,327.07 121.30,327.19 121.99,326.92 122.69,327.15 123.37,327.03 124.06,327.14 124.74,326.99 125.41,327.33 126.08,327.24 126.75,327.23 127.41,326.93 128.06,326.83 128.72,326.80 129.36,326.79 130.00,327.28 130.80,326.86 131.60,327.21 132.40,326.82 133.19,327.04 133.98,326.81 134.77,326.84 135.55,327.10 136.33,327.01 137.11,327.20 137.88,326.77 138.65,326.79 139.41,326.66 140.17,326.74 140.93,327.20 141.68,326.94 142.43,326.88 143.17,326.79 143.91,327.04 144.64,326.99 145.37,326.66 146.09,326.59 146.81,326.66 147.53,327.04 148.24,326.98 148.94,326.67 149.64,326.66 150.33,326.70 151.02,326.91 151.70,326.94 152.38,326.63 153.05,326.67 153.71,326.60 154.37,327.01 155.02,326.76 155.67,326.98 156.30,326.55 156.94,326.77 157.56,326.71 158.18,326.92 158.80,326.56 159.40,326.46 160.00,326.79 160.88,326.84 161.74,326.54 162.57,326.40 163.38,326.22 164.17,326.40 164.95,326.65 165.70,326.26 166.44,326.28 167.17,326.30 167.88,326.07 168.58,325.94 169.27,326.14 169.95,326.37 170.62,326.26 171.29,325.87 171.95,326.11 172.61,326.09 173.27,325.89 173.92,325.70 174.58,325.55 175.23,325.80 175.89,325.74 176.56,325.40 177.23,325.30 177.91,325.23 178.60,325.61 179.29,325.59 180.00,325.31 180.71,325.31 181.43,325.31 182.14,324.93 182.86,325.09 183.57,324.99 184.29,325.19 185.00,324.71 185.71,325.06 186.43,324.58 187.14,324.80 187.86,324.91 188.57,324.36 189.29,324.55 190.00,324.20 190.71,324.44 191.43,324.36 192.14,324.58 192.86,324.23 193.57,324.42 194.29,324.24 195.00,324.24 195.71,323.87 196.43,323.65 197.14,323.90 197.86,323.51 198.57,323.74 199.29,323.39 200.00,323.56 200.71,323.58 201.43,323.61 202.15,323.07 202.86,322.97 203.58,323.02 204.30,323.27 205.02,322.74 205.74,322.78 206.46,322.63 207.18,322.35 207.89,322.54 208.61,322.30 209.33,322.30 210.05,322.36 210.77,322.22 211.48,321.86 212.20,322.00 212.92,321.83 213.63,321.86 214.34,321.30 215.06,321.36 215.77,321.48 216.48,321.30 217.18,321.16 217.89,321.06 218.60,321.00 219.30,320.96 220.00,320.90 220.74,320.74 221.50,320.69 222.27,320.35 223.07,319.97 223.87,319.94 224.69,320.08 225.51,319.88 226.34,319.63 227.17,319.17 228.00,319.03 228.82,319.17 229.64,318.87 230.45,318.57 231.25,318.88 232.03,318.28 232.79,318.54 233.53,318.21 234.25,318.27 234.94,318.02 235.61,317.54 236.24,317.43 236.84,317.69 237.40,317.32 237.91,317.26 238.39,317.31 238.82,317.14 239.20,317.13" fill="none" stroke="#111111" stroke-width="1.7" stroke-linejoin="round" stroke-linecap="round"/>
<polyline points="39.20,330.13 39.21,329.72 39.22,329.19 39.23,328.35 39.24,327.83 39.25,327.05 39.26,326.30 39.27,325.36 39.29,324.53 39.30,323.74 39.33,322.79 39.36,322.00 39.39,321.01 39.43,320.20 39.49,319.60 39.55,318.77 39.62,318.12 39.70,317.57 39.87,316.51 40.06,315.53 40.28,314.91 40.52,314.07 40.78,313.36 41.05,312.68 41.34,312.16 41.62,311.42 41.91,311.03 42.20,310.46 42.60,309.87 42.84,309.54 43.20,309.27 43.96,309.07 45.40,308.99 45.84,309.00 46.31,308.90 46.80,308.80 47.33,308.79 47.88,308.60 48.46,308.53 49.06,308.52 49.69,308.61 50.35,308.36 51.03,308.28 51.73,308.22 52.46,308.14 53.21,308.15 53.98,308.19 54.77,308.20 55.59,308.00 56.43,307.95 57.28,307.87 58.16,307.82 59.05,307.90 59.97,307.77 60.90,307.63 61.46,307.55 62.04,307.71 62.62,307.66 63.21,307.66 63.81,307.44 64.42,307.50 65.04,307.58 65.67,307.44 66.30,307.51 66.95,307.24 67.60,307.45 68.26,307.13 68.92,307.21 69.60,307.05 70.28,307.25 70.97,307.18 71.66,307.23 72.37,307.14 73.07,307.15 73.79,306.99 74.51,307.09 75.24,306.98 75.97,306.82 76.71,306.98 77.46,306.76 78.21,306.67 78.97,306.60 79.73,306.69 80.50,306.57 81.27,306.76 82.05,306.73 82.83,306.48 83.61,306.41 84.40,306.50 85.20,306.36 86.00,306.44 86.80,306.49 87.43,306.30 88.06,306.33 88.70,306.45 89.36,306.29 90.02,306.24 90.69,306.38 91.37,306.33 92.06,306.33 92.75,306.25 93.45,306.14 94.16,306.20 94.87,306.22 95.59,306.14 96.31,306.00 97.03,306.00 97.76,306.01 98.50,306.10 99.23,306.01 99.97,305.99 100.71,306.05 101.45,305.81 102.19,305.95 102.94,305.84 103.68,305.89 104.42,305.95 105.17,305.75 105.91,305.94 106.65,305.66 107.39,305.79 108.12,305.76 108.85,305.65 109.58,305.73 110.31,305.68 111.03,305.65 111.74,305.71 112.45,305.48 113.16,305.57 113.86,305.68 114.55,305.46 115.23,305.66 115.91,305.44 116.58,305.57 117.24,305.40 117.89,305.46 118.53,305.43 119.17,305.31 119.79,305.48 120.40,305.39 121.23,305.43 122.05,305.36 122.86,305.34 123.67,305.31 124.47,305.22 125.26,305.37 126.05,305.11 126.83,305.32 127.60,305.29 128.36,305.16 129.12,305.22 129.87,305.17 130.61,305.13 131.35,305.01 132.08,305.00 132.80,304.99 133.51,304.95 134.21,305.13 134.91,304.92 135.60,304.91 136.28,304.90 136.96,305.00 137.62,304.87 138.28,304.88 138.93,304.76 139.58,304.75 140.21,304.67 140.84,304.68 141.46,304.68 142.07,304.83 142.67,304.70 143.27,304.56 143.85,304.64 144.43,304.51 145.00,304.62 145.92,304.54 146.78,304.62 147.60,304.40 148.38,304.53 149.13,304.31 149.84,304.49 150.53,304.34 151.19,304.11 151.84,304.30 152.47,304.09 153.10,304.07 153.73,303.96 154.35,304.12 154.99,303.85 155.63,303.99 156.29,303.84 156.97,303.87 157.68,303.70 158.42,303.59 159.19,303.78 160.00,303.65 160.63,303.46 161.27,303.66 161.93,303.60 162.59,303.34 163.27,303.24 163.95,303.38 164.65,303.20 165.35,303.33 166.06,303.21 166.77,303.24 167.50,303.15 168.22,303.17 168.95,303.14 169.69,303.02 170.43,302.97 171.17,302.85 171.91,302.74 172.65,302.68 173.40,302.85 174.14,302.60 174.88,302.61 175.62,302.52 176.36,302.56 177.10,302.47 177.83,302.51 178.56,302.32 179.28,302.23 180.00,302.25 180.71,302.20 181.43,302.19 182.14,301.93 182.86,302.03 183.57,301.99 184.29,301.91 185.00,301.58 185.71,301.58 186.43,301.62 187.14,301.56 187.86,301.24 188.57,301.27 189.29,301.28 190.00,301.21 190.71,301.05 191.43,300.87 192.14,300.84 192.86,300.64 193.57,300.62 194.29,300.56 195.00,300.57 195.71,300.40 196.43,300.24 197.14,300.09 197.86,299.99 198.57,299.99 199.29,299.80 200.00,299.60 200.69,299.68 201.38,299.48 202.07,299.48 202.77,299.22 203.46,299.12 204.15,298.93 204.85,298.85 205.54,298.81 206.23,298.70 206.93,298.46 207.62,298.25 208.32,298.00 209.01,298.09 209.70,297.80 210.40,297.65 211.09,297.40 211.78,297.24 212.47,297.20 213.16,297.21 213.85,296.98 214.54,296.81 215.23,296.64 215.91,296.36 216.60,296.16 217.28,296.12 217.96,295.79 218.64,295.77 219.32,295.58 220.00,295.41 220.71,295.10 221.44,294.88 222.19,294.80 222.95,294.48 223.73,294.41 224.51,294.08 225.31,293.94 226.10,293.73 226.90,293.45 227.70,293.18 228.50,292.83 229.29,292.63 230.08,292.57 230.85,292.11 231.61,291.87 232.36,291.70 233.08,291.48 233.79,291.32 234.48,290.95 235.14,290.94 235.77,290.45 236.37,290.49 236.94,290.24 237.47,290.17 237.97,289.78 238.42,289.80 238.83,289.75 239.20,289.55" fill="none" stroke="#8a10ff" stroke-width="1.8" stroke-linejoin="round" stroke-linecap="round"/>
<polyline points="39.20,310.00 39.20,309.59 39.21,309.10 39.21,308.52 39.21,307.87 39.21,307.17 39.21,306.41 39.22,305.62 39.22,304.81 39.23,303.98 39.24,303.15 39.25,302.32 39.26,301.52 39.28,300.74 39.30,300.00 39.32,299.28 39.35,298.53 39.37,297.78 39.40,297.01 39.43,296.24 39.47,295.48 39.50,294.72 39.54,293.97 39.58,293.24 39.62,292.53 39.66,291.85 39.70,291.19 39.75,290.58 39.80,290.00 39.87,288.93 39.89,287.95 39.92,287.06 39.97,286.26 40.10,285.56 40.33,284.97 40.70,284.50 41.26,284.19 41.99,284.05 42.83,284.45 43.73,283.77 44.63,283.75 45.47,284.68 46.20,283.92 47.00,283.76 47.64,284.13 48.25,283.72 48.93,283.99 49.80,283.06 50.31,283.48 50.86,282.62 51.43,282.55 52.03,282.50 52.66,281.91 53.31,281.75 53.99,281.19 54.70,280.23 55.44,280.65 56.20,280.08 56.81,279.61 57.45,279.29 58.12,279.67 58.80,279.22 59.50,279.34 60.22,278.99 60.95,278.97 61.68,278.43 62.41,278.38 63.14,278.13 63.87,277.66 64.59,278.14 65.30,277.43 65.98,277.74 66.61,277.80 67.22,277.45 67.81,276.93 68.39,277.50 68.98,277.31 69.60,276.83 70.24,276.67 70.94,277.05 71.69,276.54 72.50,277.28 73.41,276.81 74.40,276.72 74.94,276.56 75.50,276.71 76.08,276.87 76.69,276.25 77.31,276.23 77.96,276.33 78.62,275.98 79.30,276.16 80.00,276.02 80.70,275.83 81.42,275.95 82.15,275.72 82.88,275.23 83.62,275.95 84.37,275.28 85.12,275.25 85.87,275.13 86.63,275.51 87.38,275.44 88.13,274.96 88.88,274.77 89.62,274.42 90.35,275.06 91.08,274.33 91.80,274.60 92.50,274.36 93.20,274.29 93.90,274.26 94.60,274.06 95.29,273.87 95.99,274.28 96.69,274.47 97.39,274.30 98.09,273.86 98.79,274.27 99.49,273.66 100.19,273.95 100.89,274.29 101.59,274.35 102.29,273.91 102.99,274.23 103.70,273.89 104.40,273.88 105.10,273.91 105.80,274.25 106.50,274.00 107.20,273.73 107.90,273.93 108.60,273.83 109.30,273.53 110.00,273.89 110.70,273.89 111.41,273.66 112.12,273.93 112.84,273.07 113.57,273.47 114.31,273.56 115.05,273.26 115.79,273.08 116.53,273.51 117.28,273.25 118.02,273.07 118.77,272.83 119.51,273.63 120.24,273.05 120.98,272.81 121.70,272.86 122.42,272.86 123.13,273.38 123.82,272.73 124.51,272.78 125.18,272.58 125.85,272.88 126.49,272.60 127.12,272.69 127.73,273.00 128.33,273.13 128.90,273.00 129.83,272.21 130.67,272.43 131.43,272.78 132.14,271.96 132.80,272.03 133.42,272.20 134.03,272.01 134.64,272.25 135.26,272.12 135.90,271.80 136.59,271.50 137.32,271.38 138.13,271.31 139.02,271.02 140.00,271.45 140.57,270.93 141.15,271.53 141.76,271.25 142.39,270.67 143.04,271.01 143.70,271.05 144.37,270.48 145.07,270.83 145.77,270.36 146.49,270.96 147.21,270.22 147.95,270.72 148.69,270.98 149.44,270.79 150.20,270.18 150.96,270.38 151.73,269.96 152.49,270.07 153.26,270.46 154.03,270.34 154.79,269.53 155.55,269.78 156.31,269.93 157.07,269.42 157.81,269.89 158.55,269.87 159.28,269.46 160.00,269.18 160.69,269.50 161.38,269.08 162.07,268.67 162.76,268.62 163.45,268.39 164.14,268.86 164.83,268.43 165.52,268.45 166.21,268.42 166.90,268.41 167.59,267.55 168.28,267.59 168.97,267.86 169.66,267.60 170.34,267.11 171.03,267.19 171.72,266.61 172.41,266.42 173.10,266.16 173.79,266.30 174.48,266.00 175.17,266.10 175.86,266.34 176.55,265.45 177.24,265.66 177.93,265.78 178.62,265.39 179.31,265.17 180.00,265.24 180.69,264.42 181.38,265.11 182.07,264.73 182.76,264.70 183.45,264.57 184.14,263.78 184.83,263.61 185.52,263.57 186.21,263.72 186.90,263.97 187.59,263.80 188.28,263.22 188.97,263.26 189.66,263.23 190.34,262.72 191.03,263.16 191.72,262.99 192.41,262.65 193.10,262.66 193.79,262.43 194.48,262.15 195.17,261.71 195.86,261.52 196.55,261.33 197.24,261.02 197.93,261.65 198.62,260.93 199.31,260.53 200.00,260.63 200.69,260.28 201.38,260.44 202.07,260.18 202.77,259.88 203.46,259.99 204.15,259.78 204.85,259.57 205.54,259.83 206.23,259.22 206.93,259.27 207.62,259.41 208.32,259.33 209.01,258.64 209.70,258.17 210.40,258.83 211.09,258.27 211.78,257.83 212.47,257.58 213.16,257.51 213.85,257.39 214.54,257.06 215.23,256.79 215.91,257.46 216.60,257.11 217.28,256.28 217.96,256.41 218.64,256.49 219.32,256.02 220.00,255.41 220.69,255.43 221.39,255.23 222.11,255.47 222.85,254.91 223.59,254.53 224.35,254.40 225.11,253.59 225.88,253.87 226.66,253.69 227.43,253.26 228.20,252.68 228.97,252.31 229.73,251.75 230.48,251.51 231.22,251.28 231.95,251.25 232.66,251.25 233.36,250.45 234.03,250.40 234.68,250.28 235.31,250.01 235.92,249.21 236.49,249.78 237.03,249.26 237.54,248.79 238.02,248.54 238.45,248.77 238.85,248.83 239.20,248.15" fill="none" stroke="#0000ff" stroke-width="1.5" stroke-linejoin="round" stroke-linecap="round"/>
<rect x="42.15" y="283.19" width="1.10" height="1.10" fill="#0000ff"/><rect x="39.21" y="285.97" width="1.10" height="1.10" fill="#0000ff"/><rect x="47.16" y="282.79" width="1.10" height="1.10" fill="#0000ff"/><rect x="38.58" y="294.56" width="1.10" height="1.10" fill="#0000ff"/><rect x="39.75" y="283.96" width="1.10" height="1.10" fill="#0000ff"/><rect x="39.65" y="286.37" width="1.10" height="1.10" fill="#0000ff"/><rect x="47.54" y="284.97" width="1.10" height="1.10" fill="#0000ff"/><rect x="38.45" y="293.74" width="1.10" height="1.10" fill="#0000ff"/><rect x="38.69" y="290.19" width="1.10" height="1.10" fill="#0000ff"/><rect x="43.67" y="283.89" width="1.10" height="1.10" fill="#0000ff"/><rect x="39.49" y="287.08" width="1.10" height="1.10" fill="#0000ff"/><rect x="44.96" y="283.04" width="1.10" height="1.10" fill="#0000ff"/><rect x="42.99" y="283.81" width="1.10" height="1.10" fill="#0000ff"/><rect x="44.35" y="285.25" width="1.10" height="1.10" fill="#0000ff"/><rect x="49.77" y="282.34" width="1.10" height="1.10" fill="#0000ff"/><rect x="39.95" y="282.34" width="1.10" height="1.10" fill="#0000ff"/><rect x="48.76" y="281.82" width="1.10" height="1.10" fill="#0000ff"/><rect x="41.24" y="284.49" width="1.10" height="1.10" fill="#0000ff"/><rect x="50.16" y="280.69" width="1.10" height="1.10" fill="#0000ff"/><rect x="39.98" y="289.55" width="1.10" height="1.10" fill="#0000ff"/><rect x="38.84" y="283.44" width="1.10" height="1.10" fill="#0000ff"/><rect x="38.85" y="287.77" width="1.10" height="1.10" fill="#0000ff"/><rect x="43.24" y="284.67" width="1.10" height="1.10" fill="#0000ff"/><rect x="39.60" y="288.90" width="1.10" height="1.10" fill="#0000ff"/><rect x="38.89" y="284.25" width="1.10" height="1.10" fill="#0000ff"/>
<rect x="115.38" y="272.78" width="1.10" height="1.10" fill="#0000ff"/><rect x="136.29" y="270.80" width="1.10" height="1.10" fill="#0000ff"/><rect x="227.91" y="251.02" width="1.10" height="1.10" fill="#0000ff"/><rect x="145.45" y="271.85" width="1.10" height="1.10" fill="#0000ff"/><rect x="93.07" y="274.34" width="1.10" height="1.10" fill="#0000ff"/><rect x="114.34" y="274.60" width="1.10" height="1.10" fill="#0000ff"/><rect x="134.82" y="270.17" width="1.10" height="1.10" fill="#0000ff"/><rect x="183.02" y="262.95" width="1.10" height="1.10" fill="#0000ff"/><rect x="227.96" y="251.03" width="1.10" height="1.10" fill="#0000ff"/><rect x="53.19" y="280.30" width="1.10" height="1.10" fill="#0000ff"/><rect x="196.75" y="260.81" width="1.10" height="1.10" fill="#0000ff"/><rect x="149.41" y="270.60" width="1.10" height="1.10" fill="#0000ff"/><rect x="160.91" y="267.75" width="1.10" height="1.10" fill="#0000ff"/><rect x="230.83" y="251.36" width="1.10" height="1.10" fill="#0000ff"/><rect x="108.25" y="273.51" width="1.10" height="1.10" fill="#0000ff"/><rect x="207.18" y="258.83" width="1.10" height="1.10" fill="#0000ff"/><rect x="87.49" y="273.81" width="1.10" height="1.10" fill="#0000ff"/><rect x="143.88" y="269.36" width="1.10" height="1.10" fill="#0000ff"/><rect x="218.79" y="253.59" width="1.10" height="1.10" fill="#0000ff"/><rect x="105.23" y="272.80" width="1.10" height="1.10" fill="#0000ff"/><rect x="83.89" y="273.66" width="1.10" height="1.10" fill="#0000ff"/><rect x="193.02" y="263.26" width="1.10" height="1.10" fill="#0000ff"/><rect x="54.22" y="279.32" width="1.10" height="1.10" fill="#0000ff"/><rect x="81.56" y="276.31" width="1.10" height="1.10" fill="#0000ff"/><rect x="115.80" y="271.63" width="1.10" height="1.10" fill="#0000ff"/><rect x="194.22" y="261.10" width="1.10" height="1.10" fill="#0000ff"/><rect x="171.61" y="267.12" width="1.10" height="1.10" fill="#0000ff"/><rect x="160.80" y="268.71" width="1.10" height="1.10" fill="#0000ff"/><rect x="58.20" y="278.84" width="1.10" height="1.10" fill="#0000ff"/><rect x="109.63" y="274.45" width="1.10" height="1.10" fill="#0000ff"/><rect x="203.50" y="259.23" width="1.10" height="1.10" fill="#0000ff"/><rect x="215.44" y="255.14" width="1.10" height="1.10" fill="#0000ff"/><rect x="143.02" y="270.15" width="1.10" height="1.10" fill="#0000ff"/><rect x="220.73" y="256.09" width="1.10" height="1.10" fill="#0000ff"/><rect x="104.81" y="274.97" width="1.10" height="1.10" fill="#0000ff"/><rect x="115.23" y="273.54" width="1.10" height="1.10" fill="#0000ff"/><rect x="158.72" y="269.91" width="1.10" height="1.10" fill="#0000ff"/><rect x="84.51" y="275.66" width="1.10" height="1.10" fill="#0000ff"/><rect x="115.99" y="272.61" width="1.10" height="1.10" fill="#0000ff"/><rect x="126.80" y="270.92" width="1.10" height="1.10" fill="#0000ff"/><rect x="133.50" y="270.98" width="1.10" height="1.10" fill="#0000ff"/><rect x="184.96" y="262.55" width="1.10" height="1.10" fill="#0000ff"/><rect x="147.36" y="270.46" width="1.10" height="1.10" fill="#0000ff"/><rect x="194.25" y="262.78" width="1.10" height="1.10" fill="#0000ff"/><rect x="198.46" y="262.17" width="1.10" height="1.10" fill="#0000ff"/><rect x="54.53" y="279.86" width="1.10" height="1.10" fill="#0000ff"/><rect x="67.36" y="276.03" width="1.10" height="1.10" fill="#0000ff"/><rect x="81.88" y="273.46" width="1.10" height="1.10" fill="#0000ff"/><rect x="99.95" y="273.93" width="1.10" height="1.10" fill="#0000ff"/><rect x="81.70" y="275.92" width="1.10" height="1.10" fill="#0000ff"/><rect x="144.96" y="270.48" width="1.10" height="1.10" fill="#0000ff"/><rect x="218.14" y="254.46" width="1.10" height="1.10" fill="#0000ff"/><rect x="78.01" y="277.17" width="1.10" height="1.10" fill="#0000ff"/><rect x="164.43" y="269.62" width="1.10" height="1.10" fill="#0000ff"/><rect x="83.37" y="276.03" width="1.10" height="1.10" fill="#0000ff"/><rect x="227.70" y="253.59" width="1.10" height="1.10" fill="#0000ff"/><rect x="188.30" y="263.30" width="1.10" height="1.10" fill="#0000ff"/><rect x="215.09" y="256.27" width="1.10" height="1.10" fill="#0000ff"/><rect x="119.94" y="271.43" width="1.10" height="1.10" fill="#0000ff"/><rect x="79.99" y="276.18" width="1.10" height="1.10" fill="#0000ff"/>
<polyline points="38.90,384.00 38.90,383.64 38.90,383.25 38.90,382.85 38.90,382.42 38.90,381.98 38.90,381.51 38.90,381.03 38.90,380.53 38.91,380.00 38.91,379.47 38.91,378.91 38.91,378.34 38.91,377.75 38.91,377.14 38.91,376.52 38.91,375.89 38.91,375.24 38.91,374.58 38.91,373.91 38.91,373.22 38.91,372.52 38.91,371.81 38.91,371.09 38.91,370.35 38.91,369.61 38.92,368.86 38.92,368.10 38.92,367.33 38.92,366.55 38.92,365.77 38.92,364.98 38.92,364.18 38.92,363.38 38.92,362.57 38.92,361.75 38.92,360.94 38.92,360.11 38.92,359.29 38.93,358.46 38.93,357.63 38.93,356.80 38.93,355.97 38.93,355.13 38.93,354.30 38.93,353.46 38.93,352.63 38.93,351.80 38.94,350.97 38.94,350.14 38.94,349.32 38.94,348.50 38.94,347.68 38.94,346.86 38.94,346.06 38.95,345.25 38.95,344.46 38.95,343.67 38.95,342.88 38.95,342.11 38.96,341.34 38.96,340.58 38.96,339.83 38.96,339.09 38.96,338.36 38.97,337.64 38.97,336.93 38.97,336.23 38.97,335.54 38.98,334.87 38.98,334.21 38.98,333.56 38.98,332.93 38.99,332.31 38.99,331.71 38.99,331.12 39.00,330.55 39.00,330.00 39.01,329.01 39.01,328.04 39.02,327.08 39.02,326.15 39.03,325.23 39.04,324.32 39.04,323.44 39.05,322.57 39.06,321.71 39.06,320.87 39.07,320.05 39.08,319.24 39.09,318.45 39.09,317.67 39.10,316.90 39.11,316.15 39.12,315.40 39.12,314.68 39.13,313.96 39.14,313.26 39.15,312.56 39.16,311.88 39.17,311.21 39.18,310.55 39.19,309.90 39.20,309.26 39.21,308.62 39.22,308.00 39.23,307.39 39.24,306.78 39.25,306.18 39.26,305.59 39.28,305.00 39.29,304.43 39.30,303.85 39.31,303.29 39.33,302.73 39.34,302.17 39.36,301.62 39.37,301.08 39.38,300.54 39.40,300.00 39.43,298.96 39.46,297.99 39.49,297.08 39.52,296.22 39.55,295.41 39.58,294.65 39.61,293.93 39.65,293.24 39.68,292.57 39.72,291.94 39.76,291.32 39.80,290.71 39.84,290.11 39.89,289.52 39.93,288.92 39.99,288.32 40.04,287.70 40.10,287.06 40.16,286.41 40.23,285.72 40.30,285.00 40.37,284.32 40.45,283.62 40.53,282.90 40.61,282.18 40.70,281.44 40.79,280.70 40.88,279.95 40.98,279.20 41.08,278.44 41.18,277.69 41.29,276.94 41.39,276.20 41.49,275.46 41.60,274.73 41.71,274.02 41.81,273.32 41.91,272.64 42.02,271.97 42.12,271.33 42.22,270.70 42.32,270.11 42.41,269.54 42.50,269.00 42.68,267.96 42.87,267.01 43.04,266.15 43.22,265.36 43.39,264.63 43.56,263.95 43.73,263.31 43.90,262.70 44.06,262.10 44.23,261.51 44.40,260.90 44.63,260.08 44.86,259.30 45.08,258.56 45.31,257.87 45.53,257.22 45.75,256.60 45.98,256.03 46.20,255.10 46.59,254.81 46.93,254.00 47.36,253.20 48.00,252.36 48.60,252.74 49.33,252.50 50.13,251.93 50.96,251.75 51.77,251.29 52.50,250.90 53.29,251.28 54.03,251.54 54.75,250.97 55.47,251.91 56.20,250.58 56.85,246.07 57.42,246.44 58.03,251.97 58.84,252.54 60.00,253.00 60.52,251.87 61.10,251.08 61.73,251.33 62.41,251.42 63.11,250.83 63.85,251.70 64.61,250.85 65.39,250.44 66.17,251.07 66.96,250.07 67.75,250.85 68.52,250.11 69.27,250.04 70.00,249.61 70.71,250.11 71.43,252.76 72.14,250.69 72.86,249.40 73.57,248.40 74.29,248.82 75.00,247.89 75.71,248.56 76.43,248.23 77.14,247.83 77.86,247.61 78.57,247.18 79.29,247.16 80.00,246.25 80.71,246.50 81.43,246.76 82.14,245.85 82.86,246.57 83.57,246.38 84.29,245.67 85.00,245.49 85.71,245.47 86.43,245.27 87.14,245.89 87.86,245.05 88.57,244.52 89.29,244.50 90.00,243.66 90.71,240.48 91.43,243.38 92.14,244.67 92.86,244.68 93.57,244.86 94.29,244.18 95.00,244.61 95.71,244.50 96.43,244.54 97.14,243.98 97.86,243.93 98.57,244.10 99.29,244.76 100.00,244.02 100.71,244.27 101.43,243.88 102.14,243.59 102.86,243.51 103.57,244.37 104.29,244.28 105.00,243.76 105.71,244.09 106.43,245.78 107.14,249.34 107.86,245.58 108.57,243.59 109.29,244.24 110.00,244.15 110.71,243.65 111.43,243.95 112.14,243.42 112.86,243.22 113.57,243.00 114.29,243.69 115.00,242.76 115.71,242.58 116.43,243.40 117.14,243.29 117.86,242.88 118.57,243.24 119.29,242.23 120.00,242.41 120.72,242.38 121.45,242.48 122.18,242.11 122.92,241.93 123.65,242.19 124.39,241.85 125.12,239.46 125.85,245.89 126.58,245.28 127.29,241.77 127.99,242.55 128.68,241.96 129.35,242.14 130.00,241.23 130.79,241.37 131.52,242.03 132.22,241.90 132.89,241.91 133.55,241.49 134.21,241.19 134.88,241.29 135.58,241.52 136.33,240.77 137.13,240.94 138.00,240.53 138.60,241.05 139.24,240.07 139.90,240.81 140.59,241.06 141.30,239.87 142.02,240.48 142.76,240.47 143.50,240.64 144.25,240.24 145.00,239.77 145.75,240.81 146.50,242.73 147.23,238.51 147.95,239.16 148.66,239.18 149.34,239.09 150.00,238.93 150.78,239.34 151.53,238.87 152.28,239.65 153.00,239.30 153.72,238.56 154.43,238.96 155.12,238.60 155.82,238.70 156.51,238.27 157.20,238.09 157.89,238.00 158.59,238.11 159.29,238.38 160.00,238.06 160.71,237.31 161.43,237.96 162.14,238.00 162.86,237.72 163.57,237.57 164.29,236.45 165.00,236.83 165.71,236.17 166.43,236.83 167.14,235.95 167.86,236.43 168.57,235.71 169.29,236.09 170.00,235.48 170.71,234.72 171.43,233.35 172.14,234.90 172.86,235.62 173.57,234.76 174.29,234.88 175.00,234.81 175.71,235.16 176.43,234.02 177.14,234.50 177.86,234.27 178.57,234.42 179.29,234.58 180.00,233.67 180.71,234.02 181.43,233.70 182.14,233.64 182.86,232.93 183.57,233.73 184.29,233.82 185.00,232.98 185.71,232.83 186.43,233.54 187.14,232.37 187.86,232.23 188.57,232.12 189.29,232.89 190.00,232.71 190.71,232.22 191.43,232.31 192.14,231.48 192.86,232.11 193.57,231.75 194.29,231.72 195.00,231.45 195.71,231.34 196.43,231.00 197.14,230.65 197.86,230.09 198.57,229.29 199.29,231.01 200.00,230.98 200.71,230.70 201.43,230.20 202.14,229.75 202.86,229.74 203.57,229.66 204.29,229.63 205.00,229.82 205.71,228.55 206.43,228.82 207.14,228.62 207.86,228.68 208.57,228.68 209.29,228.34 210.00,227.95 210.71,227.91 211.43,227.60 212.14,227.63 212.86,227.24 213.57,227.02 214.29,226.29 215.00,226.90 215.71,226.06 216.43,226.14 217.14,226.19 217.86,226.16 218.57,225.99 219.29,224.61 220.00,224.78 220.72,224.57 221.44,224.47 222.16,223.97 222.88,224.26 223.60,223.50 224.33,223.56 225.05,224.13 225.77,223.69 226.49,223.15 227.20,222.53 227.91,223.35 228.61,222.84 229.31,222.05 230.00,222.00 230.76,222.15 231.55,221.96 232.37,221.21 233.19,221.79 234.02,220.78 234.83,220.45 235.62,220.92 236.37,219.86 237.07,220.27 237.72,219.49 238.30,219.79 238.80,219.26 239.20,219.25" fill="none" stroke="#ff0000" stroke-width="1.6" stroke-linejoin="round" stroke-linecap="round"/>
<rect x="110.86" y="244.29" width="1.10" height="1.10" fill="#ff0000"/><rect x="60.57" y="250.15" width="1.10" height="1.10" fill="#ff0000"/><rect x="97.68" y="242.29" width="1.10" height="1.10" fill="#ff0000"/><rect x="73.11" y="247.95" width="1.10" height="1.10" fill="#ff0000"/><rect x="137.68" y="239.09" width="1.10" height="1.10" fill="#ff0000"/><rect x="80.09" y="243.98" width="1.10" height="1.10" fill="#ff0000"/><rect x="106.12" y="247.25" width="1.10" height="1.10" fill="#ff0000"/><rect x="67.35" y="249.40" width="1.10" height="1.10" fill="#ff0000"/><rect x="129.17" y="242.68" width="1.10" height="1.10" fill="#ff0000"/><rect x="87.25" y="244.25" width="1.10" height="1.10" fill="#ff0000"/><rect x="89.14" y="243.58" width="1.10" height="1.10" fill="#ff0000"/><rect x="110.95" y="243.36" width="1.10" height="1.10" fill="#ff0000"/><rect x="96.41" y="245.05" width="1.10" height="1.10" fill="#ff0000"/><rect x="137.30" y="240.97" width="1.10" height="1.10" fill="#ff0000"/><rect x="102.68" y="244.04" width="1.10" height="1.10" fill="#ff0000"/><rect x="84.67" y="243.60" width="1.10" height="1.10" fill="#ff0000"/><rect x="94.53" y="244.69" width="1.10" height="1.10" fill="#ff0000"/><rect x="50.31" y="252.84" width="1.10" height="1.10" fill="#ff0000"/><rect x="103.84" y="243.14" width="1.10" height="1.10" fill="#ff0000"/><rect x="95.87" y="243.74" width="1.10" height="1.10" fill="#ff0000"/><rect x="100.04" y="244.87" width="1.10" height="1.10" fill="#ff0000"/><rect x="71.65" y="248.72" width="1.10" height="1.10" fill="#ff0000"/><rect x="90.26" y="243.57" width="1.10" height="1.10" fill="#ff0000"/><rect x="74.43" y="248.18" width="1.10" height="1.10" fill="#ff0000"/><rect x="90.72" y="243.68" width="1.10" height="1.10" fill="#ff0000"/><rect x="92.21" y="243.44" width="1.10" height="1.10" fill="#ff0000"/><rect x="118.72" y="240.81" width="1.10" height="1.10" fill="#ff0000"/><rect x="113.05" y="242.38" width="1.10" height="1.10" fill="#ff0000"/><rect x="91.61" y="244.15" width="1.10" height="1.10" fill="#ff0000"/><rect x="110.89" y="241.93" width="1.10" height="1.10" fill="#ff0000"/><rect x="109.09" y="242.11" width="1.10" height="1.10" fill="#ff0000"/><rect x="64.73" y="251.26" width="1.10" height="1.10" fill="#ff0000"/><rect x="125.41" y="245.17" width="1.10" height="1.10" fill="#ff0000"/><rect x="131.03" y="241.94" width="1.10" height="1.10" fill="#ff0000"/><rect x="88.97" y="244.44" width="1.10" height="1.10" fill="#ff0000"/><rect x="51.01" y="251.64" width="1.10" height="1.10" fill="#ff0000"/><rect x="77.31" y="248.82" width="1.10" height="1.10" fill="#ff0000"/><rect x="101.67" y="242.53" width="1.10" height="1.10" fill="#ff0000"/><rect x="72.56" y="247.89" width="1.10" height="1.10" fill="#ff0000"/><rect x="54.16" y="250.57" width="1.10" height="1.10" fill="#ff0000"/>
<text transform="translate(44.8,232.2) scale(0.95,0.95)" font-size="19.5">c</text>
<line x1="68.90" y1="246.80" x2="88.95" y2="235.46" stroke="#1a1a1a" stroke-width="0.95"/><polygon points="93.30,233.00 88.87,237.35 87.29,234.56" fill="#1a1a1a"/>
<text x="95.60" y="234.60" font-size="9.2" class="r">10S<tspan dx="0.46" dy="-3.40" font-size="6.81">-</tspan><tspan dx="0.55" dy="-0.28" font-size="7.91">1</tspan></text>
<line x1="98.60" y1="274.30" x2="118.72" y2="262.09" stroke="#1a1a1a" stroke-width="0.95"/><polygon points="123.00,259.50 118.70,263.98 117.04,261.24" fill="#1a1a1a"/>
<text x="124.00" y="262.00" font-size="9.2" class="r">1S<tspan dx="0.46" dy="-3.40" font-size="6.81">-</tspan><tspan dx="0.55" dy="-0.28" font-size="7.91">1</tspan></text>
<line x1="120.40" y1="305.40" x2="140.52" y2="292.24" stroke="#1a1a1a" stroke-width="0.95"/><polygon points="144.70,289.50 140.56,294.12 138.80,291.45" fill="#1a1a1a"/>
<text x="146.40" y="291.20" font-size="9.2" class="r">0.1S<tspan dx="0.46" dy="-3.40" font-size="6.81">-</tspan><tspan dx="0.55" dy="-0.28" font-size="7.91">1</tspan></text>
<line x1="146.80" y1="326.60" x2="167.17" y2="313.77" stroke="#1a1a1a" stroke-width="0.95"/><polygon points="171.40,311.10 167.18,315.65 165.47,312.94" fill="#1a1a1a"/>
<text x="173.00" y="315.00" font-size="9.2" class="r">0.01S<tspan dx="0.46" dy="-3.40" font-size="6.81">-</tspan><tspan dx="0.55" dy="-0.28" font-size="7.91">1</tspan></text>
<text x="0" y="0" transform="translate(24.2,300.3) rotate(-90) scale(1,0.78)" text-anchor="middle" font-size="9.7">stress/MPa</text>
<text x="137.8" y="408.6" text-anchor="middle" font-size="9.4">strain(%)</text>
<rect x="325.4" y="213.1" width="214.60" height="179.00" fill="none" stroke="#505050" stroke-width="1.5"/>
<text x="321.80" y="395.00" text-anchor="end" font-size="8.0">0</text>
<line x1="325.4" y1="362.27" x2="328.4" y2="362.27" stroke="#505050" stroke-width="1.5"/>
<line x1="540.0" y1="362.27" x2="537.0" y2="362.27" stroke="#505050" stroke-width="1.5"/>
<text x="321.80" y="365.17" text-anchor="end" font-size="8.0">10</text>
<line x1="325.4" y1="332.43" x2="328.4" y2="332.43" stroke="#505050" stroke-width="1.5"/>
<line x1="540.0" y1="332.43" x2="537.0" y2="332.43" stroke="#505050" stroke-width="1.5"/>
<text x="321.80" y="335.33" text-anchor="end" font-size="8.0">20</text>
<line x1="325.4" y1="302.60" x2="328.4" y2="302.60" stroke="#505050" stroke-width="1.5"/>
<line x1="540.0" y1="302.60" x2="537.0" y2="302.60" stroke="#505050" stroke-width="1.5"/>
<text x="321.80" y="305.50" text-anchor="end" font-size="8.0">30</text>
<line x1="325.4" y1="272.77" x2="328.4" y2="272.77" stroke="#505050" stroke-width="1.5"/>
<line x1="540.0" y1="272.77" x2="537.0" y2="272.77" stroke="#505050" stroke-width="1.5"/>
<text x="321.80" y="275.67" text-anchor="end" font-size="8.0">40</text>
<line x1="325.4" y1="242.93" x2="328.4" y2="242.93" stroke="#505050" stroke-width="1.5"/>
<line x1="540.0" y1="242.93" x2="537.0" y2="242.93" stroke="#505050" stroke-width="1.5"/>
<text x="321.80" y="245.83" text-anchor="end" font-size="8.0">50</text>
<text x="321.80" y="216.00" text-anchor="end" font-size="8.0">60</text>
<text x="325.40" y="402.50" text-anchor="middle" font-size="8.0">0.0</text>
<line x1="368.32" y1="392.1" x2="368.32" y2="389.1" stroke="#505050" stroke-width="1.5"/>
<line x1="368.32" y1="213.1" x2="368.32" y2="216.1" stroke="#505050" stroke-width="1.5"/>
<text x="368.32" y="402.50" text-anchor="middle" font-size="8.0">0.2</text>
<line x1="411.24" y1="392.1" x2="411.24" y2="389.1" stroke="#505050" stroke-width="1.5"/>
<line x1="411.24" y1="213.1" x2="411.24" y2="216.1" stroke="#505050" stroke-width="1.5"/>
<text x="411.24" y="402.50" text-anchor="middle" font-size="8.0">0.4</text>
<line x1="454.16" y1="392.1" x2="454.16" y2="389.1" stroke="#505050" stroke-width="1.5"/>
<line x1="454.16" y1="213.1" x2="454.16" y2="216.1" stroke="#505050" stroke-width="1.5"/>
<text x="454.16" y="402.50" text-anchor="middle" font-size="8.0">0.6</text>
<line x1="497.08" y1="392.1" x2="497.08" y2="389.1" stroke="#505050" stroke-width="1.5"/>
<line x1="497.08" y1="213.1" x2="497.08" y2="216.1" stroke="#505050" stroke-width="1.5"/>
<text x="497.08" y="402.50" text-anchor="middle" font-size="8.0">0.8</text>
<text x="540.00" y="402.50" text-anchor="middle" font-size="8.0">1.0</text>
<polyline points="325.80,350.00 325.82,349.52 325.82,348.85 325.83,348.06 325.84,347.18 325.86,346.27 325.90,345.36 325.96,344.52 326.06,343.78 326.20,343.20 326.48,342.34 326.78,341.84 327.42,341.52 328.70,341.20 329.15,341.10 329.61,341.02 330.07,340.96 330.56,340.94 331.08,341.13 331.63,341.12 332.23,341.04 332.89,340.46 333.62,340.99 334.41,340.41 335.29,340.23 336.26,339.97 337.33,340.33 338.50,339.91 339.80,339.97 340.29,340.29 340.78,340.43 341.27,340.39 341.77,339.70 342.28,339.65 342.79,339.83 343.30,340.10 343.83,340.37 344.36,340.31 344.90,340.42 345.45,340.05 346.00,340.08 346.57,339.72 347.15,339.72 347.74,339.59 348.33,339.90 348.94,339.95 349.56,339.90 350.20,339.69 350.85,339.71 351.51,339.51 352.18,340.06 352.87,339.80 353.57,339.95 354.29,340.00 355.03,339.45 355.78,339.27 356.55,339.41 357.34,340.02 358.14,339.89 358.97,339.48 359.81,339.84 360.67,339.38 361.56,339.89 362.46,339.10 363.38,339.73 364.33,339.96 365.30,339.38 366.29,339.41 367.30,339.06 368.34,339.19 369.40,339.13 369.93,339.19 370.47,338.95 371.03,339.18 371.59,338.98 372.17,339.39 372.76,339.27 373.36,339.08 373.97,339.79 374.59,339.15 375.22,339.37 375.86,339.73 376.51,339.59 377.17,339.79 377.84,339.43 378.51,339.68 379.19,338.87 379.89,339.54 380.59,339.13 381.29,339.11 382.01,339.56 382.73,339.53 383.45,339.12 384.18,339.14 384.92,339.05 385.67,339.70 386.42,339.38 387.17,339.02 387.93,339.29 388.69,338.81 389.46,339.02 390.23,339.24 391.01,339.71 391.78,339.59 392.56,339.28 393.35,339.49 394.13,338.98 394.92,339.42 395.71,339.71 396.50,338.87 397.29,339.64 398.09,339.69 398.88,339.07 399.67,339.51 400.47,339.69 401.26,338.84 402.06,339.15 402.85,339.28 403.64,339.48 404.43,338.94 405.22,339.43 406.00,339.38 406.79,339.53 407.57,339.40 408.35,339.52 409.12,339.26 409.90,339.20 410.66,339.11 411.43,339.05 412.19,339.10 412.94,339.13 413.69,339.03 414.44,338.77 415.18,339.02 415.91,339.57 416.64,338.92 417.36,339.59 418.07,339.44 418.78,339.06 419.48,338.82 420.17,339.47 420.86,339.54 421.54,338.89 422.21,339.25 422.87,339.33 423.52,339.19 424.16,338.68 424.79,338.79 425.41,339.27 426.02,339.18 426.63,339.21 427.22,338.81 427.80,339.41 428.36,339.30 428.92,339.00 429.47,339.36 430.00,338.80 431.06,339.02 432.10,338.99 433.11,339.42 434.09,339.38 435.05,338.76 435.98,339.18 436.89,338.68 437.77,339.25 438.63,339.24 439.47,339.01 440.29,338.35 441.09,338.60 441.87,338.44 442.64,338.76 443.38,338.27 444.11,338.27 444.82,338.29 445.52,339.03 446.21,338.75 446.88,338.99 447.54,339.05 448.18,338.65 448.82,338.91 449.45,338.48 450.07,338.63 450.68,338.17 451.28,338.43 451.87,338.06 452.46,338.40 453.05,338.88 453.63,338.89 454.21,338.63 454.78,337.90 455.36,338.83 455.93,338.35 456.51,338.48 457.08,338.19 457.66,338.54 458.24,338.06 458.82,337.84 459.41,338.17 460.00,337.89 460.88,337.90 461.74,337.86 462.57,338.34 463.38,338.31 464.17,337.83 464.95,338.29 465.70,337.62 466.44,338.52 467.17,337.80 467.88,338.07 468.58,337.92 469.27,338.40 469.95,337.97 470.62,337.69 471.29,338.38 471.95,338.09 472.61,337.76 473.27,338.19 473.92,338.36 474.58,338.19 475.23,338.22 475.89,337.75 476.56,337.61 477.23,337.40 477.91,338.21 478.60,337.51 479.29,337.61 480.00,338.00 480.71,337.27 481.43,338.03 482.14,337.61 482.86,337.16 483.57,337.74 484.29,337.53 485.00,336.86 485.71,337.22 486.43,337.37 487.14,336.86 487.86,336.84 488.57,337.29 489.29,336.50 490.00,336.53 490.71,336.32 491.43,336.60 492.14,336.48 492.86,336.23 493.57,335.97 494.29,335.92 495.00,336.47 495.71,336.22 496.43,336.36 497.14,335.60 497.86,336.36 498.57,336.03 499.29,335.84 500.00,336.03 500.72,335.21 501.46,335.68 502.20,335.31 502.96,334.97 503.73,335.63 504.50,334.84 505.28,335.48 506.06,334.96 506.85,335.47 507.63,334.62 508.42,334.98 509.20,335.42 509.98,334.91 510.75,334.94 511.51,334.78 512.27,334.79 513.01,334.54 513.74,334.34 514.46,334.32 515.16,334.80 515.84,334.23 516.51,334.54 517.15,334.73 517.77,334.66 518.37,334.52 518.94,334.51 519.48,334.21 520.00,334.04 521.20,333.46 522.25,333.29 523.18,333.38 524.00,333.42 524.73,333.29 525.38,332.68 525.96,333.12 526.50,332.76 527.01,332.66 527.51,332.22 528.00,332.78 529.10,332.37 529.81,331.84 530.37,330.81 531.00,330.52 531.68,331.56 532.31,331.56 533.04,332.24 534.00,331.91 534.65,332.30 535.43,331.58 536.29,331.48 537.19,332.00 538.06,331.89 538.85,331.48 539.52,331.58 540.00,331.63" fill="none" stroke="#111111" stroke-width="1.7" stroke-linejoin="round" stroke-linecap="round"/>
<polyline points="325.80,332.02 325.82,331.55 325.82,330.95 325.83,330.01 325.84,329.25 325.88,328.42 325.94,327.53 326.05,326.46 326.20,325.85 326.44,325.03 326.73,324.20 327.06,323.55 327.43,322.68 327.84,321.98 328.26,321.53 328.70,320.94 329.03,320.35 329.09,320.05 329.35,319.94 330.30,319.69 332.40,319.73 332.82,319.75 333.26,319.64 333.72,319.75 334.21,319.75 334.72,319.63 335.25,319.65 335.80,319.47 336.37,319.44 336.96,319.71 337.57,319.49 338.19,319.46 338.84,319.66 339.50,319.61 340.17,319.41 340.87,319.47 341.57,319.44 342.30,319.44 343.03,319.36 343.78,319.51 344.54,319.44 345.32,319.46 346.11,319.39 346.90,319.37 347.71,319.34 348.53,319.59 349.35,319.54 350.19,319.48 351.03,319.35 351.88,319.35 352.74,319.33 353.60,319.38 354.47,319.30 355.34,319.35 356.22,319.32 357.10,319.31 357.69,319.44 358.28,319.37 358.89,319.37 359.50,319.33 360.13,319.37 360.76,319.44 361.39,319.29 362.04,319.21 362.69,319.32 363.35,319.28 364.01,319.39 364.69,319.18 365.36,319.40 366.05,319.14 366.74,319.29 367.43,319.25 368.13,319.20 368.83,319.36 369.54,319.30 370.25,319.12 370.97,319.21 371.69,319.24 372.41,319.06 373.13,319.06 373.86,319.21 374.59,319.24 375.32,319.15 376.06,319.12 376.79,319.14 377.53,319.06 378.27,319.23 379.01,319.25 379.75,319.09 380.48,318.94 381.22,319.05 381.96,319.16 382.70,319.00 383.44,318.93 384.17,318.94 384.91,319.09 385.64,319.05 386.37,318.94 387.10,319.03 387.83,319.07 388.55,319.12 389.27,319.07 389.99,318.94 390.70,319.04 391.41,319.07 392.11,319.04 392.81,318.99 393.51,318.94 394.20,318.90 394.92,319.00 395.63,318.92 396.35,318.94 397.07,318.78 397.79,318.73 398.51,318.78 399.23,318.87 399.95,318.86 400.67,318.74 401.39,318.73 402.11,318.95 402.84,318.68 403.56,318.93 404.28,318.88 405.00,318.81 405.72,318.93 406.44,318.83 407.17,318.62 407.89,318.90 408.60,318.73 409.32,318.88 410.04,318.84 410.76,318.63 411.47,318.60 412.19,318.58 412.90,318.81 413.61,318.80 414.32,318.63 415.03,318.58 415.74,318.65 416.44,318.77 417.14,318.75 417.85,318.78 418.54,318.80 419.24,318.72 419.94,318.74 420.63,318.48 421.32,318.46 422.00,318.71 422.69,318.62 423.37,318.52 424.05,318.45 424.72,318.50 425.39,318.48 426.06,318.51 426.73,318.48 427.39,318.39 428.05,318.34 428.70,318.35 429.35,318.31 430.00,318.28 430.78,318.35 431.56,318.23 432.35,318.41 433.12,318.30 433.90,318.24 434.68,318.26 435.45,318.11 436.22,318.01 436.99,317.99 437.76,318.04 438.52,318.01 439.29,317.94 440.04,317.91 440.80,318.03 441.55,317.75 442.30,317.84 443.05,317.78 443.79,317.71 444.53,317.80 445.26,317.60 445.99,317.51 446.71,317.50 447.43,317.70 448.15,317.47 448.86,317.35 449.56,317.56 450.26,317.42 450.96,317.47 451.64,317.24 452.33,317.34 453.00,317.06 453.67,317.07 454.34,317.19 455.00,317.06 455.65,317.10 456.29,316.93 456.93,317.04 457.56,316.75 458.18,316.87 458.79,316.70 459.40,316.65 460.00,316.81 460.88,316.61 461.74,316.66 462.57,316.44 463.38,316.51 464.17,316.50 464.95,316.35 465.70,316.16 466.44,316.23 467.17,316.25 467.88,316.14 468.58,315.97 469.27,315.89 469.95,315.73 470.62,315.86 471.29,315.61 471.95,315.56 472.61,315.43 473.27,315.40 473.92,315.39 474.58,315.35 475.23,315.18 475.89,315.18 476.56,315.20 477.23,314.92 477.91,314.85 478.60,314.88 479.29,314.91 480.00,314.83 480.71,314.63 481.43,314.40 482.14,314.54 482.86,314.48 483.57,314.36 484.29,314.15 485.00,314.01 485.71,313.97 486.43,313.93 487.14,313.89 487.86,313.63 488.57,313.53 489.29,313.37 490.00,313.33 490.71,313.22 491.43,313.04 492.14,312.98 492.86,313.00 493.57,312.69 494.29,312.58 495.00,312.48 495.71,312.53 496.43,312.24 497.14,312.28 497.86,312.19 498.57,312.06 499.29,311.91 500.00,311.61 500.69,311.57 501.38,311.56 502.07,311.26 502.76,311.24 503.45,311.20 504.14,311.09 504.83,310.78 505.52,310.58 506.21,310.43 506.90,310.38 507.59,310.31 508.28,310.10 508.97,310.13 509.66,309.94 510.34,309.79 511.03,309.72 511.72,309.43 512.41,309.39 513.10,309.16 513.79,309.00 514.48,308.81 515.17,308.87 515.86,308.76 516.55,308.36 517.24,308.43 517.93,308.09 518.62,308.06 519.31,307.88 520.00,307.92 520.70,307.64 521.42,307.51 522.16,307.31 522.92,307.13 523.69,306.96 524.48,306.75 525.27,306.57 526.07,306.56 526.87,306.45 527.68,306.26 528.48,305.97 529.28,306.02 530.07,305.58 530.86,305.52 531.64,305.32 532.40,305.12 533.15,305.19 533.88,304.96 534.58,304.64 535.27,304.51 535.93,304.56 536.56,304.29 537.16,304.14 537.73,304.02 538.27,303.91 538.76,303.89 539.22,303.71 539.63,303.71 540.00,303.47" fill="none" stroke="#8a10ff" stroke-width="1.8" stroke-linejoin="round" stroke-linecap="round"/>
<polyline points="325.90,310.00 325.91,309.59 325.92,309.08 325.94,308.48 325.95,307.80 325.96,307.07 325.98,306.29 326.00,305.48 326.02,304.65 326.04,303.81 326.07,302.98 326.10,302.17 326.13,301.40 326.16,300.67 326.20,300.00 326.25,299.19 326.30,298.38 326.35,297.57 326.40,296.77 326.46,296.00 326.52,295.25 326.59,294.55 326.67,293.89 326.77,293.29 326.88,292.76 327.00,292.30 327.60,291.24 328.35,290.87 329.10,290.80 329.80,290.96 330.50,291.43 331.20,292.00 331.71,292.54 332.21,293.21 332.73,293.82 333.30,294.20 333.95,294.29 334.65,294.18 335.38,293.95 336.10,293.70 336.79,293.41 337.46,293.04 338.18,292.66 339.00,292.30 339.59,292.08 340.20,291.87 340.84,291.66 341.54,291.46 342.32,291.27 343.20,291.10 343.77,291.01 344.35,290.93 344.96,290.86 345.59,290.50 346.26,290.54 346.96,290.54 347.70,290.90 348.48,290.55 349.31,290.63 350.20,290.12 350.79,290.35 351.41,290.53 352.06,290.24 352.74,290.48 353.44,290.37 354.16,289.94 354.89,289.62 355.63,290.08 356.38,289.57 357.13,289.42 357.88,289.86 358.63,289.88 359.37,289.81 360.10,289.83 360.81,289.25 361.50,289.11 362.20,289.08 362.85,289.63 363.46,288.98 364.05,288.96 364.63,288.82 365.20,288.80 365.77,288.75 366.37,288.93 367.00,288.76 367.66,288.82 368.38,289.21 369.16,288.63 370.02,289.03 370.96,288.92 372.00,288.75 372.54,288.72 373.09,288.83 373.67,288.67 374.27,288.39 374.88,288.43 375.51,288.34 376.15,288.42 376.81,288.80 377.48,288.38 378.17,288.09 378.87,288.35 379.58,288.55 380.30,288.26 381.03,288.41 381.77,287.94 382.52,287.89 383.28,288.27 384.04,287.81 384.81,287.95 385.58,287.97 386.36,287.80 387.14,287.65 387.93,287.59 388.71,288.21 389.50,287.99 390.29,288.13 391.07,287.77 391.86,288.05 392.64,287.94 393.42,287.73 394.20,287.62 394.87,287.57 395.55,287.33 396.24,287.39 396.94,287.59 397.65,287.17 398.36,287.58 399.08,287.29 399.80,287.31 400.53,287.41 401.27,287.24 402.01,286.83 402.75,286.85 403.49,286.63 404.24,286.59 404.99,287.18 405.74,286.88 406.49,287.09 407.24,286.90 407.99,286.52 408.73,286.93 409.48,286.84 410.22,286.46 410.96,286.15 411.70,286.27 412.43,286.11 413.15,286.20 413.87,285.96 414.59,286.35 415.29,286.49 415.99,285.91 416.69,286.27 417.37,286.09 418.04,285.99 418.71,286.25 419.36,285.84 420.00,286.12 420.81,285.54 421.61,286.16 422.39,285.59 423.16,285.44 423.92,286.04 424.67,285.91 425.41,285.87 426.14,285.92 426.86,285.64 427.57,285.45 428.28,285.59 428.98,286.03 429.67,286.05 430.36,285.52 431.05,285.67 431.73,285.67 432.41,285.99 433.09,285.35 433.77,285.92 434.45,285.51 435.14,285.71 435.82,285.40 436.50,285.35 437.19,285.89 437.89,285.60 438.59,285.90 439.29,285.79 440.00,285.68 440.71,285.16 441.43,285.47 442.14,285.71 442.86,285.31 443.57,284.95 444.29,284.98 445.00,285.48 445.71,285.41 446.43,284.84 447.14,284.82 447.86,285.03 448.57,284.82 449.29,284.52 450.00,285.01 450.71,284.68 451.43,284.43 452.14,284.11 452.86,284.38 453.57,284.47 454.29,283.99 455.00,283.85 455.71,284.22 456.43,284.28 457.14,283.82 457.86,283.81 458.57,283.85 459.29,283.69 460.00,283.34 460.71,283.37 461.43,283.24 462.14,283.16 462.86,283.01 463.57,283.15 464.29,282.96 465.00,283.32 465.71,282.88 466.43,283.25 467.14,283.07 467.86,282.62 468.57,282.46 469.29,282.67 470.00,282.53 470.71,282.49 471.43,282.12 472.14,282.32 472.86,282.40 473.57,282.10 474.29,281.88 475.00,282.26 475.71,281.73 476.43,282.13 477.14,281.82 477.86,281.25 478.57,281.46 479.29,281.16 480.00,281.50 480.71,281.14 481.43,280.81 482.14,281.31 482.86,281.10 483.57,280.86 484.29,280.73 485.00,280.28 485.71,280.81 486.43,280.23 487.14,280.28 487.86,280.14 488.57,280.02 489.29,279.59 490.00,280.09 490.71,279.69 491.43,279.50 492.14,279.71 492.86,279.58 493.57,279.35 494.29,279.36 495.00,278.83 495.71,278.52 496.43,278.55 497.14,278.59 497.86,278.57 498.57,278.38 499.29,278.15 500.00,277.97 500.69,277.86 501.38,277.63 502.07,277.08 502.76,277.28 503.45,276.92 504.14,276.61 504.83,276.81 505.52,276.79 506.21,276.22 506.90,276.31 507.59,276.09 508.28,275.94 508.97,275.88 509.66,275.57 510.34,274.94 511.03,275.11 511.72,274.72 512.41,274.57 513.10,274.54 513.79,273.98 514.48,274.08 515.17,274.09 515.86,273.27 516.55,273.59 517.24,273.26 517.93,272.83 518.62,272.85 519.31,272.14 520.00,271.96 520.68,272.32 521.37,271.81 522.09,271.23 522.82,270.94 523.56,270.88 524.32,270.67 525.08,270.69 525.85,269.83 526.63,269.84 527.41,269.40 528.18,269.17 528.96,269.13 529.73,268.24 530.49,268.44 531.25,268.06 531.99,267.43 532.72,267.02 533.44,267.17 534.14,266.96 534.81,266.32 535.47,265.91 536.10,265.94 536.70,265.77 537.28,265.31 537.82,265.12 538.33,264.70 538.81,264.53 539.25,264.41 539.64,264.62 540.00,264.04" fill="none" stroke="#0000ff" stroke-width="1.5" stroke-linejoin="round" stroke-linecap="round"/>
<path d="M345.59 289.50V292.70M351.41 289.53V292.73M357.13 288.42V291.62M362.85 288.63V291.83M369.16 287.63V290.83M374.88 287.43V290.63M381.03 287.41V290.61M387.14 286.65V289.85M393.42 286.73V289.93M399.80 286.31V289.51M405.74 285.88V289.08M411.70 285.27V288.47M418.04 284.99V288.19M423.92 285.04V288.24M429.67 285.05V288.25M435.82 284.40V287.60M442.14 284.71V287.91M447.86 284.03V287.23M453.57 283.47V286.67M459.29 282.69V285.89M465.00 282.32V285.52M470.71 281.49V284.69M476.43 281.13V284.33M482.14 280.31V283.51M487.86 279.14V282.34M493.57 278.35V281.55M499.29 277.15V280.35M505.52 275.79V278.99M511.72 273.72V276.92M517.93 271.83V275.03M524.32 269.67V272.87M530.49 267.44V270.64M536.70 264.77V267.97" stroke="#0000ff" stroke-width="1.0" fill="none"/>
<rect x="329.27" y="289.87" width="1.10" height="1.10" fill="#0000ff"/><rect x="324.86" y="301.75" width="1.10" height="1.10" fill="#0000ff"/><rect x="330.78" y="292.92" width="1.10" height="1.10" fill="#0000ff"/><rect x="325.30" y="293.76" width="1.10" height="1.10" fill="#0000ff"/><rect x="325.16" y="301.03" width="1.10" height="1.10" fill="#0000ff"/><rect x="326.07" y="300.27" width="1.10" height="1.10" fill="#0000ff"/><rect x="326.33" y="293.64" width="1.10" height="1.10" fill="#0000ff"/><rect x="325.67" y="301.25" width="1.10" height="1.10" fill="#0000ff"/><rect x="325.40" y="294.63" width="1.10" height="1.10" fill="#0000ff"/><rect x="326.92" y="290.84" width="1.10" height="1.10" fill="#0000ff"/><rect x="338.74" y="292.67" width="1.10" height="1.10" fill="#0000ff"/><rect x="325.27" y="295.70" width="1.10" height="1.10" fill="#0000ff"/><rect x="325.77" y="294.87" width="1.10" height="1.10" fill="#0000ff"/><rect x="325.68" y="301.27" width="1.10" height="1.10" fill="#0000ff"/><rect x="335.84" y="292.89" width="1.10" height="1.10" fill="#0000ff"/><rect x="328.49" y="291.77" width="1.10" height="1.10" fill="#0000ff"/><rect x="330.33" y="292.51" width="1.10" height="1.10" fill="#0000ff"/><rect x="344.86" y="288.81" width="1.10" height="1.10" fill="#0000ff"/><rect x="327.84" y="291.67" width="1.10" height="1.10" fill="#0000ff"/><rect x="345.62" y="290.38" width="1.10" height="1.10" fill="#0000ff"/><rect x="324.97" y="300.55" width="1.10" height="1.10" fill="#0000ff"/><rect x="346.89" y="291.91" width="1.10" height="1.10" fill="#0000ff"/><rect x="331.44" y="293.87" width="1.10" height="1.10" fill="#0000ff"/><rect x="347.24" y="291.39" width="1.10" height="1.10" fill="#0000ff"/><rect x="328.29" y="289.71" width="1.10" height="1.10" fill="#0000ff"/><rect x="335.68" y="292.99" width="1.10" height="1.10" fill="#0000ff"/><rect x="326.32" y="300.02" width="1.10" height="1.10" fill="#0000ff"/><rect x="342.52" y="291.29" width="1.10" height="1.10" fill="#0000ff"/><rect x="328.04" y="292.10" width="1.10" height="1.10" fill="#0000ff"/><rect x="333.05" y="293.32" width="1.10" height="1.10" fill="#0000ff"/><rect x="342.97" y="292.05" width="1.10" height="1.10" fill="#0000ff"/><rect x="329.42" y="289.50" width="1.10" height="1.10" fill="#0000ff"/><rect x="325.10" y="300.86" width="1.10" height="1.10" fill="#0000ff"/><rect x="346.00" y="289.60" width="1.10" height="1.10" fill="#0000ff"/><rect x="334.88" y="292.97" width="1.10" height="1.10" fill="#0000ff"/><rect x="338.09" y="290.44" width="1.10" height="1.10" fill="#0000ff"/><rect x="333.33" y="292.85" width="1.10" height="1.10" fill="#0000ff"/><rect x="332.95" y="293.92" width="1.10" height="1.10" fill="#0000ff"/><rect x="331.89" y="290.74" width="1.10" height="1.10" fill="#0000ff"/><rect x="325.35" y="296.02" width="1.10" height="1.10" fill="#0000ff"/>
<rect x="432.34" y="284.41" width="1.10" height="1.10" fill="#0000ff"/><rect x="419.78" y="284.25" width="1.10" height="1.10" fill="#0000ff"/><rect x="439.95" y="285.15" width="1.10" height="1.10" fill="#0000ff"/><rect x="496.11" y="277.87" width="1.10" height="1.10" fill="#0000ff"/><rect x="514.45" y="273.77" width="1.10" height="1.10" fill="#0000ff"/><rect x="495.94" y="277.19" width="1.10" height="1.10" fill="#0000ff"/><rect x="356.90" y="288.94" width="1.10" height="1.10" fill="#0000ff"/><rect x="522.18" y="270.29" width="1.10" height="1.10" fill="#0000ff"/><rect x="390.79" y="285.93" width="1.10" height="1.10" fill="#0000ff"/><rect x="371.81" y="289.23" width="1.10" height="1.10" fill="#0000ff"/><rect x="388.42" y="287.15" width="1.10" height="1.10" fill="#0000ff"/><rect x="379.74" y="288.19" width="1.10" height="1.10" fill="#0000ff"/><rect x="425.72" y="284.23" width="1.10" height="1.10" fill="#0000ff"/><rect x="372.05" y="286.69" width="1.10" height="1.10" fill="#0000ff"/><rect x="419.70" y="286.14" width="1.10" height="1.10" fill="#0000ff"/><rect x="515.68" y="273.93" width="1.10" height="1.10" fill="#0000ff"/><rect x="453.83" y="284.58" width="1.10" height="1.10" fill="#0000ff"/><rect x="504.38" y="277.09" width="1.10" height="1.10" fill="#0000ff"/><rect x="383.54" y="286.66" width="1.10" height="1.10" fill="#0000ff"/><rect x="480.17" y="282.05" width="1.10" height="1.10" fill="#0000ff"/><rect x="533.09" y="266.01" width="1.10" height="1.10" fill="#0000ff"/><rect x="479.50" y="280.98" width="1.10" height="1.10" fill="#0000ff"/><rect x="374.82" y="289.02" width="1.10" height="1.10" fill="#0000ff"/><rect x="429.56" y="286.28" width="1.10" height="1.10" fill="#0000ff"/><rect x="457.06" y="282.51" width="1.10" height="1.10" fill="#0000ff"/><rect x="503.20" y="275.41" width="1.10" height="1.10" fill="#0000ff"/><rect x="501.00" y="276.20" width="1.10" height="1.10" fill="#0000ff"/><rect x="411.10" y="286.73" width="1.10" height="1.10" fill="#0000ff"/><rect x="358.34" y="290.11" width="1.10" height="1.10" fill="#0000ff"/><rect x="458.12" y="284.09" width="1.10" height="1.10" fill="#0000ff"/><rect x="487.77" y="278.42" width="1.10" height="1.10" fill="#0000ff"/><rect x="509.06" y="274.18" width="1.10" height="1.10" fill="#0000ff"/><rect x="511.72" y="272.67" width="1.10" height="1.10" fill="#0000ff"/><rect x="373.38" y="286.55" width="1.10" height="1.10" fill="#0000ff"/><rect x="379.29" y="288.85" width="1.10" height="1.10" fill="#0000ff"/><rect x="539.23" y="264.47" width="1.10" height="1.10" fill="#0000ff"/><rect x="533.57" y="265.28" width="1.10" height="1.10" fill="#0000ff"/><rect x="371.49" y="289.49" width="1.10" height="1.10" fill="#0000ff"/><rect x="473.55" y="281.56" width="1.10" height="1.10" fill="#0000ff"/><rect x="458.50" y="284.63" width="1.10" height="1.10" fill="#0000ff"/>
<polyline points="325.40,392.00 325.40,391.64 325.40,391.26 325.40,390.85 325.40,390.43 325.40,390.00 325.40,389.54 325.40,389.07 325.40,388.58 325.40,388.07 325.40,387.54 325.40,387.00 325.40,386.45 325.40,385.88 325.40,385.29 325.40,384.69 325.40,384.08 325.40,383.45 325.40,382.81 325.40,382.16 325.40,381.49 325.40,380.81 325.40,380.13 325.40,379.43 325.40,378.72 325.40,378.00 325.40,377.27 325.40,376.53 325.40,375.78 325.40,375.02 325.40,374.26 325.40,373.48 325.40,372.70 325.40,371.92 325.40,371.12 325.40,370.32 325.40,369.52 325.39,368.71 325.39,367.89 325.39,367.07 325.39,366.25 325.39,365.42 325.39,364.59 325.39,363.75 325.39,362.92 325.39,362.08 325.39,361.24 325.39,360.40 325.39,359.56 325.39,358.72 325.39,357.88 325.39,357.03 325.39,356.19 325.39,355.35 325.39,354.52 325.39,353.68 325.39,352.85 325.39,352.02 325.39,351.19 325.39,350.37 325.39,349.55 325.39,348.74 325.39,347.93 325.39,347.13 325.39,346.33 325.39,345.54 325.39,344.75 325.39,343.97 325.39,343.20 325.39,342.44 325.39,341.69 325.39,340.94 325.39,340.21 325.39,339.48 325.39,338.76 325.39,338.06 325.39,337.36 325.40,336.68 325.40,336.00 325.40,335.34 325.40,334.69 325.40,334.06 325.40,333.44 325.40,332.83 325.40,332.23 325.40,331.65 325.40,331.09 325.40,330.53 325.40,330.00 325.40,328.93 325.40,327.89 325.40,326.87 325.40,325.88 325.40,324.90 325.40,323.95 325.40,323.02 325.40,322.11 325.40,321.21 325.40,320.34 325.40,319.49 325.40,318.66 325.40,317.84 325.40,317.04 325.40,316.26 325.40,315.50 325.40,314.75 325.40,314.02 325.40,313.30 325.41,312.60 325.41,311.91 325.41,311.23 325.41,310.57 325.41,309.92 325.41,309.28 325.41,308.66 325.41,308.04 325.42,307.44 325.42,306.84 325.42,306.26 325.43,305.68 325.43,305.12 325.43,304.56 325.44,304.01 325.44,303.46 325.45,302.92 325.45,302.39 325.46,301.87 325.47,301.34 325.47,300.83 325.48,300.32 325.49,299.81 325.50,299.30 325.52,298.14 325.55,297.08 325.57,296.11 325.60,295.21 325.63,294.39 325.66,293.63 325.70,292.92 325.73,292.27 325.77,291.65 325.81,291.06 325.85,290.50 325.89,289.96 325.94,289.42 325.99,288.89 326.04,288.35 326.09,287.79 326.14,287.21 326.20,286.60 326.28,285.79 326.36,285.00 326.44,284.20 326.53,283.42 326.62,282.65 326.71,281.90 326.81,281.16 326.91,280.45 327.01,279.75 327.12,279.08 327.23,278.44 327.35,277.83 327.47,277.25 327.60,276.70 327.87,275.73 328.17,274.92 328.49,274.22 328.82,273.60 329.16,273.01 329.48,272.42 329.80,271.80 330.16,271.04 330.53,270.29 330.90,269.56 331.26,268.85 331.59,268.16 331.90,267.50 332.24,266.75 332.54,266.04 332.82,265.36 333.08,264.69 333.30,264.00 333.48,263.30 333.63,262.60 333.75,261.90 333.87,261.20 334.00,259.91 334.11,259.31 334.18,258.91 334.27,258.53 334.43,257.18 334.70,256.53 335.14,256.14 335.70,256.30 336.32,255.14 336.94,255.46 337.50,254.99 338.23,253.71 338.89,253.62 339.70,253.34 340.31,253.51 340.97,254.64 341.69,254.08 342.43,254.52 343.20,256.03 343.85,255.65 344.52,255.66 345.21,256.05 345.91,256.27 346.65,257.07 347.40,256.15 348.07,256.02 348.77,256.21 349.49,254.38 350.22,251.08 350.96,254.25 351.68,254.57 352.40,254.14 353.09,254.73 353.74,254.79 354.39,253.54 355.05,254.31 355.74,254.40 356.49,254.06 357.30,253.46 357.92,254.09 358.58,253.95 359.27,253.24 359.99,253.72 360.72,253.15 361.46,252.88 362.21,253.17 362.95,253.11 363.68,253.13 364.40,253.38 365.08,253.55 365.72,253.65 366.34,253.62 366.96,253.88 367.58,256.71 368.23,256.03 368.92,252.47 369.67,252.96 370.49,252.81 371.40,252.91 371.97,252.18 372.54,252.26 373.13,253.09 373.72,252.66 374.33,252.73 374.96,251.97 375.60,252.29 376.27,252.86 376.96,252.50 377.68,252.87 378.42,251.87 379.19,252.14 380.00,252.51 380.84,252.04 381.72,252.42 382.64,252.11 383.60,251.54 384.17,251.50 384.76,252.54 385.38,251.49 386.02,248.69 386.68,247.22 387.36,253.64 388.05,255.72 388.76,251.85 389.49,251.86 390.22,252.19 390.97,251.57 391.72,251.67 392.48,251.95 393.24,251.96 394.01,251.23 394.78,251.31 395.55,251.33 396.32,252.02 397.08,251.97 397.84,252.30 398.60,252.04 399.34,251.41 400.08,252.01 400.80,252.26 401.51,251.49 402.20,251.07 402.88,251.49 403.54,251.37 404.18,251.94 404.80,252.18 405.65,251.13 406.46,252.00 407.24,251.00 408.00,251.65 408.73,251.14 409.44,251.11 410.13,251.84 410.81,251.19 411.48,251.03 412.14,251.34 412.80,251.60 413.46,251.38 414.13,251.76 414.80,251.18 415.48,251.30 416.18,251.51 416.89,251.18 417.63,251.45 418.39,251.12 419.18,250.69 420.00,250.65 420.63,251.42 421.28,251.35 421.94,251.56 422.61,251.24 423.28,251.09 423.97,250.57 424.66,251.38 425.36,250.48 426.07,249.32 426.79,245.03 427.51,250.87 428.24,253.80 428.97,250.74 429.70,251.06 430.44,250.83 431.18,250.44 431.92,251.06 432.66,250.97 433.40,251.05 434.15,250.06 434.89,250.72 435.63,251.01 436.37,250.20 437.10,250.08 437.83,250.76 438.56,250.17 439.28,250.15 440.00,250.58 440.71,249.99 441.43,249.69 442.14,249.62 442.86,249.69 443.57,250.02 444.29,249.52 445.00,249.90 445.71,248.95 446.43,249.06 447.14,249.40 447.86,249.11 448.57,249.20 449.29,251.39 450.00,249.76 450.71,248.28 451.43,247.98 452.14,248.40 452.86,248.06 453.57,248.15 454.29,247.47 455.00,247.34 455.71,247.68 456.43,248.02 457.14,247.37 457.86,247.99 458.57,247.49 459.29,247.18 460.00,247.53 460.71,246.79 461.43,247.15 462.14,247.35 462.86,246.91 463.57,246.56 464.29,246.22 465.00,246.72 465.71,246.19 466.43,246.34 467.14,246.48 467.86,246.89 468.57,246.50 469.29,246.25 470.00,246.59 470.71,245.86 471.43,245.88 472.14,246.16 472.86,245.94 473.57,245.47 474.29,245.62 475.00,246.04 475.71,245.26 476.43,245.73 477.14,244.85 477.86,245.85 478.57,244.00 479.29,243.11 480.00,245.58 480.69,245.25 481.38,244.26 482.07,244.38 482.76,244.56 483.45,245.06 484.14,243.91 484.83,243.69 485.52,243.89 486.21,243.45 486.90,243.77 487.59,243.80 488.28,243.56 488.97,243.08 489.66,242.81 490.34,243.61 491.03,243.04 491.72,242.95 492.41,242.81 493.10,242.92 493.79,243.03 494.48,242.80 495.17,242.53 495.86,241.91 496.55,241.54 497.24,241.29 497.93,242.05 498.62,240.92 499.31,241.36 500.00,241.59 500.69,240.70 501.38,240.59 502.07,240.43 502.76,240.85 503.45,240.33 504.14,240.29 504.83,239.11 505.52,239.71 506.21,239.14 506.90,238.84 507.59,239.72 508.28,241.68 508.97,241.51 509.66,238.76 510.34,238.24 511.03,237.42 511.72,237.33 512.41,237.36 513.10,236.73 513.79,236.11 514.48,236.42 515.17,236.54 515.86,236.32 516.55,235.21 517.24,235.31 517.93,234.92 518.62,234.87 519.31,235.43 520.00,234.61 520.73,234.30 521.48,234.08 522.25,234.12 523.03,234.23 523.83,233.68 524.65,233.34 525.47,233.23 526.30,233.12 527.13,233.75 527.96,232.73 528.79,233.29 529.62,232.38 530.44,233.07 531.25,232.32 532.05,232.81 532.83,232.28 533.59,231.74 534.33,231.65 535.05,232.40 535.74,231.99 536.41,231.82 537.04,231.57 537.63,231.89 538.19,231.56 538.71,230.98 539.19,231.55 539.62,231.14 540.00,231.72" fill="none" stroke="#ff0000" stroke-width="1.6" stroke-linejoin="round" stroke-linecap="round"/>
<rect x="363.32" y="251.65" width="1.10" height="1.10" fill="#ff0000"/><rect x="338.27" y="251.18" width="1.10" height="1.10" fill="#ff0000"/><rect x="366.35" y="253.75" width="1.10" height="1.10" fill="#ff0000"/><rect x="351.22" y="254.49" width="1.10" height="1.10" fill="#ff0000"/><rect x="332.64" y="263.49" width="1.10" height="1.10" fill="#ff0000"/><rect x="362.38" y="252.31" width="1.10" height="1.10" fill="#ff0000"/><rect x="335.98" y="253.35" width="1.10" height="1.10" fill="#ff0000"/><rect x="367.00" y="255.30" width="1.10" height="1.10" fill="#ff0000"/><rect x="333.37" y="262.28" width="1.10" height="1.10" fill="#ff0000"/><rect x="334.23" y="257.58" width="1.10" height="1.10" fill="#ff0000"/><rect x="341.50" y="253.22" width="1.10" height="1.10" fill="#ff0000"/><rect x="333.76" y="262.30" width="1.10" height="1.10" fill="#ff0000"/><rect x="356.40" y="254.15" width="1.10" height="1.10" fill="#ff0000"/><rect x="339.48" y="250.81" width="1.10" height="1.10" fill="#ff0000"/><rect x="357.32" y="252.91" width="1.10" height="1.10" fill="#ff0000"/><rect x="364.60" y="252.05" width="1.10" height="1.10" fill="#ff0000"/><rect x="334.37" y="256.37" width="1.10" height="1.10" fill="#ff0000"/><rect x="339.78" y="251.60" width="1.10" height="1.10" fill="#ff0000"/><rect x="331.67" y="266.15" width="1.10" height="1.10" fill="#ff0000"/><rect x="331.35" y="267.24" width="1.10" height="1.10" fill="#ff0000"/><rect x="369.79" y="252.09" width="1.10" height="1.10" fill="#ff0000"/><rect x="356.26" y="253.97" width="1.10" height="1.10" fill="#ff0000"/><rect x="334.06" y="256.03" width="1.10" height="1.10" fill="#ff0000"/><rect x="331.56" y="265.03" width="1.10" height="1.10" fill="#ff0000"/><rect x="335.54" y="256.69" width="1.10" height="1.10" fill="#ff0000"/><rect x="331.39" y="266.31" width="1.10" height="1.10" fill="#ff0000"/><rect x="342.11" y="255.50" width="1.10" height="1.10" fill="#ff0000"/><rect x="354.39" y="253.08" width="1.10" height="1.10" fill="#ff0000"/><rect x="333.91" y="259.09" width="1.10" height="1.10" fill="#ff0000"/><rect x="353.76" y="252.60" width="1.10" height="1.10" fill="#ff0000"/><rect x="331.16" y="267.38" width="1.10" height="1.10" fill="#ff0000"/><rect x="330.60" y="267.16" width="1.10" height="1.10" fill="#ff0000"/><rect x="360.54" y="253.59" width="1.10" height="1.10" fill="#ff0000"/><rect x="349.15" y="252.24" width="1.10" height="1.10" fill="#ff0000"/><rect x="331.99" y="264.57" width="1.10" height="1.10" fill="#ff0000"/><rect x="359.43" y="254.00" width="1.10" height="1.10" fill="#ff0000"/><rect x="343.41" y="253.36" width="1.10" height="1.10" fill="#ff0000"/><rect x="341.24" y="255.01" width="1.10" height="1.10" fill="#ff0000"/><rect x="366.83" y="257.60" width="1.10" height="1.10" fill="#ff0000"/><rect x="353.92" y="252.92" width="1.10" height="1.10" fill="#ff0000"/>
<text transform="translate(332.3,232.1) scale(0.88,0.98)" font-size="22">d</text>
<line x1="393.90" y1="252.20" x2="415.85" y2="239.76" stroke="#1a1a1a" stroke-width="0.95"/><polygon points="420.20,237.30 415.77,241.65 414.19,238.87" fill="#1a1a1a"/>
<text x="423.00" y="239.00" font-size="10" class="r">10S<tspan dx="0.50" dy="-3.70" font-size="7.40">-</tspan><tspan dx="0.60" dy="-0.30" font-size="8.60">1</tspan></text>
<line x1="388.90" y1="287.60" x2="411.71" y2="275.10" stroke="#1a1a1a" stroke-width="0.95"/><polygon points="416.10,272.70 411.61,276.99 410.07,274.18" fill="#1a1a1a"/>
<text x="419.00" y="275.20" font-size="10" class="r">1S<tspan dx="0.50" dy="-3.70" font-size="7.40">-</tspan><tspan dx="0.60" dy="-0.30" font-size="8.60">1</tspan></text>
<line x1="376.50" y1="319.10" x2="399.27" y2="305.91" stroke="#1a1a1a" stroke-width="0.95"/><polygon points="403.60,303.40 399.21,307.79 397.61,305.02" fill="#1a1a1a"/>
<text x="405.20" y="305.90" font-size="10" class="r">0.1S<tspan dx="0.50" dy="-3.70" font-size="7.40">-</tspan><tspan dx="0.60" dy="-0.30" font-size="8.60">1</tspan></text>
<line x1="397.00" y1="339.10" x2="417.30" y2="331.79" stroke="#1a1a1a" stroke-width="0.95"/><polygon points="422.00,330.10 416.90,333.64 415.81,330.63" fill="#1a1a1a"/>
<text x="424.00" y="334.30" font-size="10" class="r">0.01S<tspan dx="0.50" dy="-3.70" font-size="7.40">-</tspan><tspan dx="0.60" dy="-0.30" font-size="8.60">1</tspan></text>
<text x="433" y="418.4" text-anchor="middle" font-size="10">strain(%)</text>
</svg></body></html>
